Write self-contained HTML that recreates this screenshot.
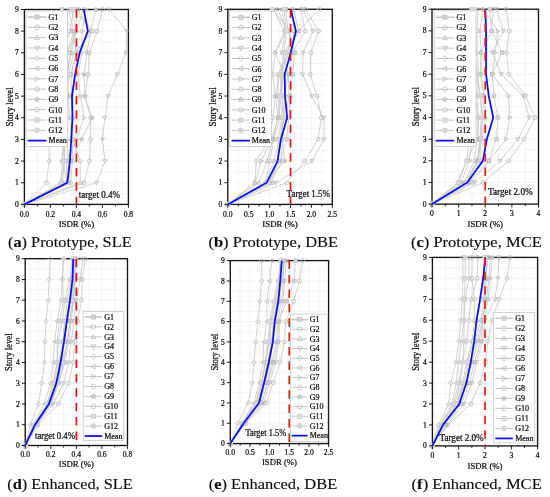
<!DOCTYPE html>
<html><head><meta charset="utf-8"><style>
html,body{margin:0;padding:0;background:#fff;}
svg{display:block;filter:blur(0.3px);}
text{font-family:"Liberation Serif", "Times New Roman", serif;fill:#0a0a0a;stroke:#0a0a0a;stroke-width:0.22px;}
</style></head><body>
<svg width="550" height="497" viewBox="0 0 550 497">
<path d="M50.4,9.5V204.4M76.4,9.5V204.4M102.4,9.5V204.4M37.4,9.5V204.4M63.4,9.5V204.4M89.4,9.5V204.4M115.4,9.5V204.4M24.4,193.57H128.4M24.4,182.74H128.4M24.4,171.92H128.4M24.4,161.09H128.4M24.4,150.26H128.4M24.4,139.43H128.4M24.4,128.61H128.4M24.4,117.78H128.4M24.4,106.95H128.4M24.4,96.12H128.4M24.4,85.29H128.4M24.4,74.47H128.4M24.4,63.64H128.4M24.4,52.81H128.4M24.4,41.98H128.4M24.4,31.16H128.4M24.4,20.33H128.4" stroke="#ececec" stroke-width="0.6" fill="none"/>
<rect x="24.4" y="9.5" width="104" height="194.9" fill="none" stroke="#151515" stroke-width="1.35"/>
<clipPath id="clipa"><rect x="20.4" y="5.5" width="108" height="202.9"/></clipPath>
<g clip-path="url(#clipa)">
<polyline points="24.4,204.4 62.1,182.74 64.7,161.09 63.4,139.43 63.4,117.78 63.4,96.12 70.81,74.47 76.4,52.81 72.5,31.16 62.1,9.5" fill="none" stroke="#c6c6c6" stroke-width="0.8"/>
<polyline points="24.4,204.4 84.2,182.74 89.4,161.09 90.7,139.43 90.7,117.78 84.85,96.12 88.1,74.47 89.4,52.81 97.2,31.16 102.4,9.5" fill="none" stroke="#c6c6c6" stroke-width="0.8"/>
<polyline points="24.4,204.4 68.6,182.74 67.95,161.09 67.3,139.43 66,117.78 63.4,96.12 63.4,74.47 67.3,52.81 73.8,31.16 68.6,9.5" fill="none" stroke="#c6c6c6" stroke-width="0.8"/>
<polyline points="24.4,204.4 96.55,182.74 105,161.09 102.4,139.43 105,117.78 107.99,96.12 117.35,74.47 125.8,52.81 127.1,31.16 108.9,9.5" fill="none" stroke="#c6c6c6" stroke-width="0.8"/>
<polyline points="24.4,204.4 46.5,182.74 49.1,161.09 49.1,139.43 50.4,117.78 53,96.12 58.2,74.47 63.4,52.81 69.9,31.16 73.8,9.5" fill="none" stroke="#c6c6c6" stroke-width="0.8"/>
<polyline points="24.4,204.4 70.55,182.74 72.5,161.09 72.5,139.43 69.51,117.78 68.6,96.12 67.3,74.47 69.9,52.81 75.1,31.16 77.7,9.5" fill="none" stroke="#c6c6c6" stroke-width="0.8"/>
<polyline points="24.4,204.4 66.65,182.74 66.65,161.09 76.4,139.43 84.2,117.78 80.3,96.12 78.35,74.47 81.6,52.81 82.25,31.16 85.5,9.5" fill="none" stroke="#c6c6c6" stroke-width="0.8"/>
<polyline points="24.4,204.4 60.8,182.74 62.1,161.09 63.4,139.43 64.7,117.78 66,96.12 67.3,74.47 71.2,52.81 76.4,31.16 83.55,9.5" fill="none" stroke="#c6c6c6" stroke-width="0.8"/>
<polyline points="24.4,204.4 68.6,182.74 71.2,161.09 81.6,139.43 92,117.78 84.85,96.12 84.2,74.47 86.8,52.81 90.7,31.16 95.9,9.5" fill="none" stroke="#c6c6c6" stroke-width="0.8"/>
<polyline points="24.4,204.4 80.3,182.74 80.3,161.09 72.5,139.43 72.5,117.78 71.2,96.12 71.2,74.47 76.4,52.81 90.7,31.16 77.7,9.5" fill="none" stroke="#c6c6c6" stroke-width="0.8"/>
<polyline points="24.4,204.4 60.8,182.74 64.7,161.09 64.7,139.43 64.7,117.78 66,96.12 68.6,74.47 73.8,52.81 93.3,31.16 73.8,9.5" fill="none" stroke="#c6c6c6" stroke-width="0.8"/>
<polyline points="24.4,204.4 67.3,182.74 62.1,161.09 66,139.43 63.4,117.78 62.1,96.12 63.4,74.47 67.3,52.81 76.4,31.16 71.2,9.5" fill="none" stroke="#c6c6c6" stroke-width="0.8"/>
<rect x="22.7" y="202.7" width="3.4" height="3.4" fill="#d8d8d8" stroke="#bdbdbd" stroke-width="0.8"/>
<rect x="60.4" y="181.04" width="3.4" height="3.4" fill="#d8d8d8" stroke="#bdbdbd" stroke-width="0.8"/>
<rect x="63" y="159.39" width="3.4" height="3.4" fill="#d8d8d8" stroke="#bdbdbd" stroke-width="0.8"/>
<rect x="61.7" y="137.73" width="3.4" height="3.4" fill="#d8d8d8" stroke="#bdbdbd" stroke-width="0.8"/>
<rect x="61.7" y="116.08" width="3.4" height="3.4" fill="#d8d8d8" stroke="#bdbdbd" stroke-width="0.8"/>
<rect x="61.7" y="94.42" width="3.4" height="3.4" fill="#d8d8d8" stroke="#bdbdbd" stroke-width="0.8"/>
<rect x="69.11" y="72.77" width="3.4" height="3.4" fill="#d8d8d8" stroke="#bdbdbd" stroke-width="0.8"/>
<rect x="74.7" y="51.11" width="3.4" height="3.4" fill="#d8d8d8" stroke="#bdbdbd" stroke-width="0.8"/>
<rect x="70.8" y="29.46" width="3.4" height="3.4" fill="#d8d8d8" stroke="#bdbdbd" stroke-width="0.8"/>
<rect x="60.4" y="7.8" width="3.4" height="3.4" fill="#d8d8d8" stroke="#bdbdbd" stroke-width="0.8"/>
<circle cx="24.4" cy="204.4" r="2" fill="none" stroke="#bdbdbd" stroke-width="0.8"/>
<circle cx="84.2" cy="182.74" r="2" fill="none" stroke="#bdbdbd" stroke-width="0.8"/>
<circle cx="89.4" cy="161.09" r="2" fill="none" stroke="#bdbdbd" stroke-width="0.8"/>
<circle cx="90.7" cy="139.43" r="2" fill="none" stroke="#bdbdbd" stroke-width="0.8"/>
<circle cx="90.7" cy="117.78" r="2" fill="none" stroke="#bdbdbd" stroke-width="0.8"/>
<circle cx="84.85" cy="96.12" r="2" fill="none" stroke="#bdbdbd" stroke-width="0.8"/>
<circle cx="88.1" cy="74.47" r="2" fill="none" stroke="#bdbdbd" stroke-width="0.8"/>
<circle cx="89.4" cy="52.81" r="2" fill="none" stroke="#bdbdbd" stroke-width="0.8"/>
<circle cx="97.2" cy="31.16" r="2" fill="none" stroke="#bdbdbd" stroke-width="0.8"/>
<circle cx="102.4" cy="9.5" r="2" fill="none" stroke="#bdbdbd" stroke-width="0.8"/>
<path d="M24.4,202.2L26.5,205.9L22.3,205.9Z" fill="none" stroke="#bdbdbd" stroke-width="0.8"/>
<path d="M68.6,180.54L70.7,184.24L66.5,184.24Z" fill="none" stroke="#bdbdbd" stroke-width="0.8"/>
<path d="M67.95,158.89L70.05,162.59L65.85,162.59Z" fill="none" stroke="#bdbdbd" stroke-width="0.8"/>
<path d="M67.3,137.23L69.4,140.93L65.2,140.93Z" fill="none" stroke="#bdbdbd" stroke-width="0.8"/>
<path d="M66,115.58L68.1,119.28L63.9,119.28Z" fill="none" stroke="#bdbdbd" stroke-width="0.8"/>
<path d="M63.4,93.92L65.5,97.62L61.3,97.62Z" fill="none" stroke="#bdbdbd" stroke-width="0.8"/>
<path d="M63.4,72.27L65.5,75.97L61.3,75.97Z" fill="none" stroke="#bdbdbd" stroke-width="0.8"/>
<path d="M67.3,50.61L69.4,54.31L65.2,54.31Z" fill="none" stroke="#bdbdbd" stroke-width="0.8"/>
<path d="M73.8,28.96L75.9,32.66L71.7,32.66Z" fill="none" stroke="#bdbdbd" stroke-width="0.8"/>
<path d="M68.6,7.3L70.7,11L66.5,11Z" fill="none" stroke="#bdbdbd" stroke-width="0.8"/>
<path d="M24.4,206.6L26.5,202.9L22.3,202.9Z" fill="none" stroke="#bdbdbd" stroke-width="0.8"/>
<path d="M96.55,184.94L98.65,181.24L94.45,181.24Z" fill="none" stroke="#bdbdbd" stroke-width="0.8"/>
<path d="M105,163.29L107.1,159.59L102.9,159.59Z" fill="none" stroke="#bdbdbd" stroke-width="0.8"/>
<path d="M102.4,141.63L104.5,137.93L100.3,137.93Z" fill="none" stroke="#bdbdbd" stroke-width="0.8"/>
<path d="M105,119.98L107.1,116.28L102.9,116.28Z" fill="none" stroke="#bdbdbd" stroke-width="0.8"/>
<path d="M107.99,98.32L110.09,94.62L105.89,94.62Z" fill="none" stroke="#bdbdbd" stroke-width="0.8"/>
<path d="M117.35,76.67L119.45,72.97L115.25,72.97Z" fill="none" stroke="#bdbdbd" stroke-width="0.8"/>
<path d="M125.8,55.01L127.9,51.31L123.7,51.31Z" fill="none" stroke="#bdbdbd" stroke-width="0.8"/>
<path d="M127.1,33.36L129.2,29.66L125,29.66Z" fill="none" stroke="#bdbdbd" stroke-width="0.8"/>
<path d="M108.9,11.7L111,8L106.8,8Z" fill="none" stroke="#bdbdbd" stroke-width="0.8"/>
<path d="M24.4,202.1L26.7,204.4L24.4,206.7L22.1,204.4Z" fill="none" stroke="#bdbdbd" stroke-width="0.8"/>
<path d="M46.5,180.44L48.8,182.74L46.5,185.04L44.2,182.74Z" fill="none" stroke="#bdbdbd" stroke-width="0.8"/>
<path d="M49.1,158.79L51.4,161.09L49.1,163.39L46.8,161.09Z" fill="none" stroke="#bdbdbd" stroke-width="0.8"/>
<path d="M49.1,137.13L51.4,139.43L49.1,141.73L46.8,139.43Z" fill="none" stroke="#bdbdbd" stroke-width="0.8"/>
<path d="M50.4,115.48L52.7,117.78L50.4,120.08L48.1,117.78Z" fill="none" stroke="#bdbdbd" stroke-width="0.8"/>
<path d="M53,93.82L55.3,96.12L53,98.42L50.7,96.12Z" fill="none" stroke="#bdbdbd" stroke-width="0.8"/>
<path d="M58.2,72.17L60.5,74.47L58.2,76.77L55.9,74.47Z" fill="none" stroke="#bdbdbd" stroke-width="0.8"/>
<path d="M63.4,50.51L65.7,52.81L63.4,55.11L61.1,52.81Z" fill="none" stroke="#bdbdbd" stroke-width="0.8"/>
<path d="M69.9,28.86L72.2,31.16L69.9,33.46L67.6,31.16Z" fill="none" stroke="#bdbdbd" stroke-width="0.8"/>
<path d="M73.8,7.2L76.1,9.5L73.8,11.8L71.5,9.5Z" fill="none" stroke="#bdbdbd" stroke-width="0.8"/>
<path d="M22.2,204.4L25.9,202.3L25.9,206.5Z" fill="none" stroke="#bdbdbd" stroke-width="0.8"/>
<path d="M68.35,182.74L72.05,180.64L72.05,184.84Z" fill="none" stroke="#bdbdbd" stroke-width="0.8"/>
<path d="M70.3,161.09L74,158.99L74,163.19Z" fill="none" stroke="#bdbdbd" stroke-width="0.8"/>
<path d="M70.3,139.43L74,137.33L74,141.53Z" fill="none" stroke="#bdbdbd" stroke-width="0.8"/>
<path d="M67.31,117.78L71.01,115.68L71.01,119.88Z" fill="none" stroke="#bdbdbd" stroke-width="0.8"/>
<path d="M66.4,96.12L70.1,94.02L70.1,98.22Z" fill="none" stroke="#bdbdbd" stroke-width="0.8"/>
<path d="M65.1,74.47L68.8,72.37L68.8,76.57Z" fill="none" stroke="#bdbdbd" stroke-width="0.8"/>
<path d="M67.7,52.81L71.4,50.71L71.4,54.91Z" fill="none" stroke="#bdbdbd" stroke-width="0.8"/>
<path d="M72.9,31.16L76.6,29.06L76.6,33.26Z" fill="none" stroke="#bdbdbd" stroke-width="0.8"/>
<path d="M75.5,9.5L79.2,7.4L79.2,11.6Z" fill="none" stroke="#bdbdbd" stroke-width="0.8"/>
<path d="M26.6,204.4L22.9,202.3L22.9,206.5Z" fill="none" stroke="#bdbdbd" stroke-width="0.8"/>
<path d="M68.85,182.74L65.15,180.64L65.15,184.84Z" fill="none" stroke="#bdbdbd" stroke-width="0.8"/>
<path d="M68.85,161.09L65.15,158.99L65.15,163.19Z" fill="none" stroke="#bdbdbd" stroke-width="0.8"/>
<path d="M78.6,139.43L74.9,137.33L74.9,141.53Z" fill="none" stroke="#bdbdbd" stroke-width="0.8"/>
<path d="M86.4,117.78L82.7,115.68L82.7,119.88Z" fill="none" stroke="#bdbdbd" stroke-width="0.8"/>
<path d="M82.5,96.12L78.8,94.02L78.8,98.22Z" fill="none" stroke="#bdbdbd" stroke-width="0.8"/>
<path d="M80.55,74.47L76.85,72.37L76.85,76.57Z" fill="none" stroke="#bdbdbd" stroke-width="0.8"/>
<path d="M83.8,52.81L80.1,50.71L80.1,54.91Z" fill="none" stroke="#bdbdbd" stroke-width="0.8"/>
<path d="M84.45,31.16L80.75,29.06L80.75,33.26Z" fill="none" stroke="#bdbdbd" stroke-width="0.8"/>
<path d="M87.7,9.5L84,7.4L84,11.6Z" fill="none" stroke="#bdbdbd" stroke-width="0.8"/>
<polygon points="26.5,204.4 25.45,206.22 23.35,206.22 22.3,204.4 23.35,202.58 25.45,202.58" fill="none" stroke="#bdbdbd" stroke-width="0.8"/>
<polygon points="62.9,182.74 61.85,184.56 59.75,184.56 58.7,182.74 59.75,180.93 61.85,180.93" fill="none" stroke="#bdbdbd" stroke-width="0.8"/>
<polygon points="64.2,161.09 63.15,162.91 61.05,162.91 60,161.09 61.05,159.27 63.15,159.27" fill="none" stroke="#bdbdbd" stroke-width="0.8"/>
<polygon points="65.5,139.43 64.45,141.25 62.35,141.25 61.3,139.43 62.35,137.61 64.45,137.61" fill="none" stroke="#bdbdbd" stroke-width="0.8"/>
<polygon points="66.8,117.78 65.75,119.6 63.65,119.6 62.6,117.78 63.65,115.96 65.75,115.96" fill="none" stroke="#bdbdbd" stroke-width="0.8"/>
<polygon points="68.1,96.12 67.05,97.94 64.95,97.94 63.9,96.12 64.95,94.3 67.05,94.3" fill="none" stroke="#bdbdbd" stroke-width="0.8"/>
<polygon points="69.4,74.47 68.35,76.29 66.25,76.29 65.2,74.47 66.25,72.65 68.35,72.65" fill="none" stroke="#bdbdbd" stroke-width="0.8"/>
<polygon points="73.3,52.81 72.25,54.63 70.15,54.63 69.1,52.81 70.15,50.99 72.25,50.99" fill="none" stroke="#bdbdbd" stroke-width="0.8"/>
<polygon points="78.5,31.16 77.45,32.97 75.35,32.97 74.3,31.16 75.35,29.34 77.45,29.34" fill="none" stroke="#bdbdbd" stroke-width="0.8"/>
<polygon points="85.65,9.5 84.6,11.32 82.5,11.32 81.45,9.5 82.5,7.68 84.6,7.68" fill="none" stroke="#bdbdbd" stroke-width="0.8"/>
<polygon points="24.4,202 24.99,203.59 26.68,203.66 25.35,204.71 25.81,206.34 24.4,205.4 22.99,206.34 23.45,204.71 22.12,203.66 23.81,203.59" fill="#d0d0d0" stroke="#bdbdbd" stroke-width="0.8"/>
<polygon points="68.6,180.34 69.19,181.94 70.88,182 69.55,183.05 70.01,184.69 68.6,183.74 67.19,184.69 67.65,183.05 66.32,182 68.01,181.94" fill="#d0d0d0" stroke="#bdbdbd" stroke-width="0.8"/>
<polygon points="71.2,158.69 71.79,160.28 73.48,160.35 72.15,161.4 72.61,163.03 71.2,162.09 69.79,163.03 70.25,161.4 68.92,160.35 70.61,160.28" fill="#d0d0d0" stroke="#bdbdbd" stroke-width="0.8"/>
<polygon points="81.6,137.03 82.19,138.62 83.88,138.69 82.55,139.74 83.01,141.37 81.6,140.43 80.19,141.37 80.65,139.74 79.32,138.69 81.01,138.62" fill="#d0d0d0" stroke="#bdbdbd" stroke-width="0.8"/>
<polygon points="92,115.38 92.59,116.97 94.28,117.04 92.95,118.09 93.41,119.72 92,118.78 90.59,119.72 91.05,118.09 89.72,117.04 91.41,116.97" fill="#d0d0d0" stroke="#bdbdbd" stroke-width="0.8"/>
<polygon points="84.85,93.72 85.44,95.31 87.13,95.38 85.8,96.43 86.26,98.06 84.85,97.12 83.44,98.06 83.9,96.43 82.57,95.38 84.26,95.31" fill="#d0d0d0" stroke="#bdbdbd" stroke-width="0.8"/>
<polygon points="84.2,72.07 84.79,73.66 86.48,73.73 85.15,74.78 85.61,76.41 84.2,75.47 82.79,76.41 83.25,74.78 81.92,73.73 83.61,73.66" fill="#d0d0d0" stroke="#bdbdbd" stroke-width="0.8"/>
<polygon points="86.8,50.41 87.39,52 89.08,52.07 87.75,53.12 88.21,54.75 86.8,53.81 85.39,54.75 85.85,53.12 84.52,52.07 86.21,52" fill="#d0d0d0" stroke="#bdbdbd" stroke-width="0.8"/>
<polygon points="90.7,28.76 91.29,30.35 92.98,30.41 91.65,31.46 92.11,33.1 90.7,32.16 89.29,33.1 89.75,31.46 88.42,30.41 90.11,30.35" fill="#d0d0d0" stroke="#bdbdbd" stroke-width="0.8"/>
<polygon points="95.9,7.1 96.49,8.69 98.18,8.76 96.85,9.81 97.31,11.44 95.9,10.5 94.49,11.44 94.95,9.81 93.62,8.76 95.31,8.69" fill="#d0d0d0" stroke="#bdbdbd" stroke-width="0.8"/>
<polygon points="24.4,202.2 26.49,203.72 25.69,206.18 23.11,206.18 22.31,203.72" fill="none" stroke="#bdbdbd" stroke-width="0.8"/>
<polygon points="80.3,180.54 82.39,182.06 81.59,184.52 79.01,184.52 78.21,182.06" fill="none" stroke="#bdbdbd" stroke-width="0.8"/>
<polygon points="80.3,158.89 82.39,160.41 81.59,162.87 79.01,162.87 78.21,160.41" fill="none" stroke="#bdbdbd" stroke-width="0.8"/>
<polygon points="72.5,137.23 74.59,138.75 73.79,141.21 71.21,141.21 70.41,138.75" fill="none" stroke="#bdbdbd" stroke-width="0.8"/>
<polygon points="72.5,115.58 74.59,117.1 73.79,119.56 71.21,119.56 70.41,117.1" fill="none" stroke="#bdbdbd" stroke-width="0.8"/>
<polygon points="71.2,93.92 73.29,95.44 72.49,97.9 69.91,97.9 69.11,95.44" fill="none" stroke="#bdbdbd" stroke-width="0.8"/>
<polygon points="71.2,72.27 73.29,73.79 72.49,76.25 69.91,76.25 69.11,73.79" fill="none" stroke="#bdbdbd" stroke-width="0.8"/>
<polygon points="76.4,50.61 78.49,52.13 77.69,54.59 75.11,54.59 74.31,52.13" fill="none" stroke="#bdbdbd" stroke-width="0.8"/>
<polygon points="90.7,28.96 92.79,30.48 91.99,32.94 89.41,32.94 88.61,30.48" fill="none" stroke="#bdbdbd" stroke-width="0.8"/>
<polygon points="77.7,7.3 79.79,8.82 78.99,11.28 76.41,11.28 75.61,8.82" fill="none" stroke="#bdbdbd" stroke-width="0.8"/>
<rect x="22.6" y="202.6" width="3.6" height="3.6" fill="#dcdcdc" stroke="#cfcfcf" stroke-width="0.8"/>
<rect x="59" y="180.94" width="3.6" height="3.6" fill="#dcdcdc" stroke="#cfcfcf" stroke-width="0.8"/>
<rect x="62.9" y="159.29" width="3.6" height="3.6" fill="#dcdcdc" stroke="#cfcfcf" stroke-width="0.8"/>
<rect x="62.9" y="137.63" width="3.6" height="3.6" fill="#dcdcdc" stroke="#cfcfcf" stroke-width="0.8"/>
<rect x="62.9" y="115.98" width="3.6" height="3.6" fill="#dcdcdc" stroke="#cfcfcf" stroke-width="0.8"/>
<rect x="64.2" y="94.32" width="3.6" height="3.6" fill="#dcdcdc" stroke="#cfcfcf" stroke-width="0.8"/>
<rect x="66.8" y="72.67" width="3.6" height="3.6" fill="#dcdcdc" stroke="#cfcfcf" stroke-width="0.8"/>
<rect x="72" y="51.01" width="3.6" height="3.6" fill="#dcdcdc" stroke="#cfcfcf" stroke-width="0.8"/>
<rect x="91.5" y="29.36" width="3.6" height="3.6" fill="#dcdcdc" stroke="#cfcfcf" stroke-width="0.8"/>
<rect x="72" y="7.7" width="3.6" height="3.6" fill="#dcdcdc" stroke="#cfcfcf" stroke-width="0.8"/>
<circle cx="24.4" cy="204.4" r="2.1" fill="#dedede" stroke="#cccccc" stroke-width="0.8"/><circle cx="24.4" cy="204.4" r="0.8" fill="#c8c8c8"/>
<circle cx="67.3" cy="182.74" r="2.1" fill="#dedede" stroke="#cccccc" stroke-width="0.8"/><circle cx="67.3" cy="182.74" r="0.8" fill="#c8c8c8"/>
<circle cx="62.1" cy="161.09" r="2.1" fill="#dedede" stroke="#cccccc" stroke-width="0.8"/><circle cx="62.1" cy="161.09" r="0.8" fill="#c8c8c8"/>
<circle cx="66" cy="139.43" r="2.1" fill="#dedede" stroke="#cccccc" stroke-width="0.8"/><circle cx="66" cy="139.43" r="0.8" fill="#c8c8c8"/>
<circle cx="63.4" cy="117.78" r="2.1" fill="#dedede" stroke="#cccccc" stroke-width="0.8"/><circle cx="63.4" cy="117.78" r="0.8" fill="#c8c8c8"/>
<circle cx="62.1" cy="96.12" r="2.1" fill="#dedede" stroke="#cccccc" stroke-width="0.8"/><circle cx="62.1" cy="96.12" r="0.8" fill="#c8c8c8"/>
<circle cx="63.4" cy="74.47" r="2.1" fill="#dedede" stroke="#cccccc" stroke-width="0.8"/><circle cx="63.4" cy="74.47" r="0.8" fill="#c8c8c8"/>
<circle cx="67.3" cy="52.81" r="2.1" fill="#dedede" stroke="#cccccc" stroke-width="0.8"/><circle cx="67.3" cy="52.81" r="0.8" fill="#c8c8c8"/>
<circle cx="76.4" cy="31.16" r="2.1" fill="#dedede" stroke="#cccccc" stroke-width="0.8"/><circle cx="76.4" cy="31.16" r="0.8" fill="#c8c8c8"/>
<circle cx="71.2" cy="9.5" r="2.1" fill="#dedede" stroke="#cccccc" stroke-width="0.8"/><circle cx="71.2" cy="9.5" r="0.8" fill="#c8c8c8"/>
<polyline points="24.4,204.4 67.3,182.74 69.9,161.09 71.2,139.43 72.5,117.78 71.98,96.12 75.1,74.47 79.65,52.81 87.84,31.16 83.81,9.5" fill="none" stroke="#0c0cf8" stroke-width="1.75" stroke-linejoin="miter"/>
</g>
<path d="M76.4,9.5V204.4" stroke="#f51010" stroke-width="1.65" stroke-dasharray="8.5 5.9"/>
<rect x="26.1" y="10.9" width="41.5" height="135.5" fill="#fff" stroke="#c8c8c8" stroke-width="0.8"/>
<path d="M27.6,17.1H46.4" stroke="#c6c6c6" stroke-width="1.6"/>
<rect x="35" y="15.1" width="4" height="4" fill="#d8d8d8" stroke="#bdbdbd" stroke-width="0.8"/>
<text x="48.6" y="19.9" font-size="8" text-anchor="start">G1</text>
<path d="M27.6,27.39H46.4" stroke="#c6c6c6" stroke-width="1.0"/>
<circle cx="37" cy="27.39" r="2.35" fill="none" stroke="#bdbdbd" stroke-width="0.8"/>
<text x="48.6" y="30.19" font-size="8" text-anchor="start">G2</text>
<path d="M27.6,37.68H46.4" stroke="#c6c6c6" stroke-width="1.0"/>
<path d="M37,35.09L39.47,39.44L34.53,39.44Z" fill="none" stroke="#bdbdbd" stroke-width="0.8"/>
<text x="48.6" y="40.48" font-size="8" text-anchor="start">G3</text>
<path d="M27.6,47.97H46.4" stroke="#c6c6c6" stroke-width="1.0"/>
<path d="M37,50.55L39.47,46.21L34.53,46.21Z" fill="none" stroke="#bdbdbd" stroke-width="0.8"/>
<text x="48.6" y="50.77" font-size="8" text-anchor="start">G4</text>
<path d="M27.6,58.26H46.4" stroke="#c6c6c6" stroke-width="1.0"/>
<path d="M37,55.56L39.7,58.26L37,60.96L34.3,58.26Z" fill="none" stroke="#bdbdbd" stroke-width="0.8"/>
<text x="48.6" y="61.06" font-size="8" text-anchor="start">G5</text>
<path d="M27.6,68.55H46.4" stroke="#c6c6c6" stroke-width="1.0"/>
<path d="M34.41,68.55L38.76,66.08L38.76,71.02Z" fill="none" stroke="#bdbdbd" stroke-width="0.8"/>
<text x="48.6" y="71.35" font-size="8" text-anchor="start">G6</text>
<path d="M27.6,78.84H46.4" stroke="#c6c6c6" stroke-width="1.0"/>
<path d="M39.59,78.84L35.24,76.37L35.24,81.31Z" fill="none" stroke="#bdbdbd" stroke-width="0.8"/>
<text x="48.6" y="81.64" font-size="8" text-anchor="start">G7</text>
<path d="M27.6,89.13H46.4" stroke="#c6c6c6" stroke-width="1.0"/>
<polygon points="39.47,89.13 38.23,91.27 35.77,91.27 34.53,89.13 35.77,86.99 38.23,86.99" fill="none" stroke="#bdbdbd" stroke-width="0.8"/>
<text x="48.6" y="91.93" font-size="8" text-anchor="start">G8</text>
<path d="M27.6,99.42H46.4" stroke="#c6c6c6" stroke-width="1.0"/>
<polygon points="37,96.6 37.69,98.47 39.68,98.55 38.12,99.78 38.66,101.7 37,100.59 35.34,101.7 35.88,99.78 34.32,98.55 36.31,98.47" fill="#d0d0d0" stroke="#bdbdbd" stroke-width="0.8"/>
<text x="48.6" y="102.22" font-size="8" text-anchor="start">G9</text>
<path d="M27.6,109.71H46.4" stroke="#c6c6c6" stroke-width="1.0"/>
<polygon points="37,107.12 39.46,108.91 38.52,111.8 35.48,111.8 34.54,108.91" fill="none" stroke="#bdbdbd" stroke-width="0.8"/>
<text x="48.6" y="112.51" font-size="8" text-anchor="start">G10</text>
<path d="M27.6,120H46.4" stroke="#c6c6c6" stroke-width="1.0"/>
<rect x="34.88" y="117.89" width="4.23" height="4.23" fill="#dcdcdc" stroke="#cfcfcf" stroke-width="0.8"/>
<text x="48.6" y="122.8" font-size="8" text-anchor="start">G11</text>
<path d="M27.6,130.29H46.4" stroke="#c6c6c6" stroke-width="1.0"/>
<circle cx="37" cy="130.29" r="2.47" fill="#dedede" stroke="#cccccc" stroke-width="0.8"/><circle cx="37" cy="130.29" r="0.8" fill="#c8c8c8"/>
<text x="48.6" y="133.09" font-size="8" text-anchor="start">G12</text>
<path d="M27.6,140.58H46.4" stroke="#0c0cf8" stroke-width="1.75"/>
<text x="48.6" y="143.38" font-size="8" text-anchor="start">Mean</text>
<path d="M24.4,204.4v3.4M50.4,204.4v3.4M76.4,204.4v3.4M102.4,204.4v3.4M128.4,204.4v3.4M37.4,204.4v2M63.4,204.4v2M89.4,204.4v2M115.4,204.4v2M24.4,204.4h-3.4M24.4,182.74h-3.4M24.4,161.09h-3.4M24.4,139.43h-3.4M24.4,117.78h-3.4M24.4,96.12h-3.4M24.4,74.47h-3.4M24.4,52.81h-3.4M24.4,31.16h-3.4M24.4,9.5h-3.4" stroke="#1a1a1a" stroke-width="1"/>
<text x="24.4" y="216.6" font-size="7.6" text-anchor="middle">0.0</text>
<text x="50.4" y="216.6" font-size="7.6" text-anchor="middle">0.2</text>
<text x="76.4" y="216.6" font-size="7.6" text-anchor="middle">0.4</text>
<text x="102.4" y="216.6" font-size="7.6" text-anchor="middle">0.6</text>
<text x="128.4" y="216.6" font-size="7.6" text-anchor="middle">0.8</text>
<text x="18.9" y="206.98" font-size="7.6" text-anchor="end">0</text>
<text x="18.9" y="185.33" font-size="7.6" text-anchor="end">1</text>
<text x="18.9" y="163.67" font-size="7.6" text-anchor="end">2</text>
<text x="18.9" y="142.02" font-size="7.6" text-anchor="end">3</text>
<text x="18.9" y="120.36" font-size="7.6" text-anchor="end">4</text>
<text x="18.9" y="98.71" font-size="7.6" text-anchor="end">5</text>
<text x="18.9" y="77.05" font-size="7.6" text-anchor="end">6</text>
<text x="18.9" y="55.4" font-size="7.6" text-anchor="end">7</text>
<text x="18.9" y="33.74" font-size="7.6" text-anchor="end">8</text>
<text x="18.9" y="12.08" font-size="7.6" text-anchor="end">9</text>
<text x="78.8" y="197.5" font-size="9.3" text-anchor="start" textLength="41.2" lengthAdjust="spacingAndGlyphs">target 0.4%</text>
<text x="76.4" y="227.2" font-size="8.8" text-anchor="middle" textLength="35.5" lengthAdjust="spacingAndGlyphs">ISDR (%)</text>
<text transform="translate(13,106.9) rotate(-90)" font-size="9.6" text-anchor="middle" textLength="39.2" lengthAdjust="spacingAndGlyphs">Story level</text>
<text x="8" y="247" font-size="14.8" style="stroke-width:0.12px" textLength="123.6" lengthAdjust="spacingAndGlyphs">(<tspan font-weight="bold">a</tspan>) Prototype, SLE</text>
<path d="M248.7,9.3V204.4M269.6,9.3V204.4M290.5,9.3V204.4M311.4,9.3V204.4M238.25,9.3V204.4M259.15,9.3V204.4M280.05,9.3V204.4M300.95,9.3V204.4M321.85,9.3V204.4M227.8,193.56H332.3M227.8,182.72H332.3M227.8,171.88H332.3M227.8,161.04H332.3M227.8,150.21H332.3M227.8,139.37H332.3M227.8,128.53H332.3M227.8,117.69H332.3M227.8,106.85H332.3M227.8,96.01H332.3M227.8,85.17H332.3M227.8,74.33H332.3M227.8,63.49H332.3M227.8,52.66H332.3M227.8,41.82H332.3M227.8,30.98H332.3M227.8,20.14H332.3" stroke="#ececec" stroke-width="0.6" fill="none"/>
<rect x="227.8" y="9.3" width="104.5" height="195.1" fill="none" stroke="#151515" stroke-width="1.35"/>
<clipPath id="clipb"><rect x="223.8" y="5.3" width="108.5" height="203.1"/></clipPath>
<g clip-path="url(#clipb)">
<polyline points="227.8,204.4 268.35,182.72 280.05,161.04 286.74,139.37 288.83,117.69 290.5,96.01 292.59,74.33 294.68,52.66 287.99,30.98 285.9,9.3" fill="none" stroke="#c6c6c6" stroke-width="0.8"/>
<polyline points="227.8,204.4 286.74,182.72 304.71,161.04 318.09,139.37 321.43,117.69 316.83,96.01 310.15,74.33 310.98,52.66 318.51,30.98 305.55,9.3" fill="none" stroke="#c6c6c6" stroke-width="0.8"/>
<polyline points="227.8,204.4 258.73,182.72 267.09,161.04 272.94,139.37 277.96,117.69 275.45,96.01 279.63,74.33 284.23,52.66 298.86,30.98 293.43,9.3" fill="none" stroke="#c6c6c6" stroke-width="0.8"/>
<polyline points="227.8,204.4 275.87,182.72 311.82,161.04 323.94,139.37 323.94,117.69 311.82,96.01 302.62,74.33 303.04,52.66 313.07,30.98 303.04,9.3" fill="none" stroke="#c6c6c6" stroke-width="0.8"/>
<polyline points="227.8,204.4 254.97,182.72 256.22,161.04 269.6,139.37 272.94,117.69 275.45,96.01 272.53,74.33 275.45,52.66 284.23,30.98 273.36,9.3" fill="none" stroke="#c6c6c6" stroke-width="0.8"/>
<polyline points="227.8,204.4 271.69,182.72 277.12,161.04 280.89,139.37 282.98,117.69 282.14,96.01 282.14,74.33 286.32,52.66 298.86,30.98 318.92,9.3" fill="none" stroke="#c6c6c6" stroke-width="0.8"/>
<polyline points="227.8,204.4 254.97,182.72 261.24,161.04 271.69,139.37 277.96,117.69 280.05,96.01 284.23,74.33 275.45,52.66 286.32,30.98 277.96,9.3" fill="none" stroke="#c6c6c6" stroke-width="0.8"/>
<polyline points="227.8,204.4 269.6,182.72 282.14,161.04 280.05,139.37 284.23,117.69 284.23,96.01 288.41,74.33 292.59,52.66 305.13,30.98 300.95,9.3" fill="none" stroke="#c6c6c6" stroke-width="0.8"/>
<polyline points="227.8,204.4 265.42,182.72 285.07,161.04 282.14,139.37 286.32,117.69 288.83,96.01 288.41,74.33 282.14,52.66 285.07,30.98 282.14,9.3" fill="none" stroke="#c6c6c6" stroke-width="0.8"/>
<polyline points="227.8,204.4 265.42,182.72 269.6,161.04 273.78,139.37 280.05,117.69 277.96,96.01 277.96,74.33 290.5,52.66 294.68,30.98 292.17,9.3" fill="none" stroke="#c6c6c6" stroke-width="0.8"/>
<polyline points="227.8,204.4 268.35,182.72 277.96,161.04 277.96,139.37 282.14,117.69 280.05,96.01 282.14,74.33 284.23,52.66 286.32,30.98 284.23,9.3" fill="none" stroke="#c6c6c6" stroke-width="0.8"/>
<polyline points="227.8,204.4 265.42,182.72 273.78,161.04 280.05,139.37 284.23,117.69 282.14,96.01 280.05,74.33 288.41,52.66 290.5,30.98 272.11,9.3" fill="none" stroke="#c6c6c6" stroke-width="0.8"/>
<rect x="226.1" y="202.7" width="3.4" height="3.4" fill="#d8d8d8" stroke="#bdbdbd" stroke-width="0.8"/>
<rect x="266.65" y="181.02" width="3.4" height="3.4" fill="#d8d8d8" stroke="#bdbdbd" stroke-width="0.8"/>
<rect x="278.35" y="159.34" width="3.4" height="3.4" fill="#d8d8d8" stroke="#bdbdbd" stroke-width="0.8"/>
<rect x="285.04" y="137.67" width="3.4" height="3.4" fill="#d8d8d8" stroke="#bdbdbd" stroke-width="0.8"/>
<rect x="287.13" y="115.99" width="3.4" height="3.4" fill="#d8d8d8" stroke="#bdbdbd" stroke-width="0.8"/>
<rect x="288.8" y="94.31" width="3.4" height="3.4" fill="#d8d8d8" stroke="#bdbdbd" stroke-width="0.8"/>
<rect x="290.89" y="72.63" width="3.4" height="3.4" fill="#d8d8d8" stroke="#bdbdbd" stroke-width="0.8"/>
<rect x="292.98" y="50.96" width="3.4" height="3.4" fill="#d8d8d8" stroke="#bdbdbd" stroke-width="0.8"/>
<rect x="286.29" y="29.28" width="3.4" height="3.4" fill="#d8d8d8" stroke="#bdbdbd" stroke-width="0.8"/>
<rect x="284.2" y="7.6" width="3.4" height="3.4" fill="#d8d8d8" stroke="#bdbdbd" stroke-width="0.8"/>
<circle cx="227.8" cy="204.4" r="2" fill="none" stroke="#bdbdbd" stroke-width="0.8"/>
<circle cx="286.74" cy="182.72" r="2" fill="none" stroke="#bdbdbd" stroke-width="0.8"/>
<circle cx="304.71" cy="161.04" r="2" fill="none" stroke="#bdbdbd" stroke-width="0.8"/>
<circle cx="318.09" cy="139.37" r="2" fill="none" stroke="#bdbdbd" stroke-width="0.8"/>
<circle cx="321.43" cy="117.69" r="2" fill="none" stroke="#bdbdbd" stroke-width="0.8"/>
<circle cx="316.83" cy="96.01" r="2" fill="none" stroke="#bdbdbd" stroke-width="0.8"/>
<circle cx="310.15" cy="74.33" r="2" fill="none" stroke="#bdbdbd" stroke-width="0.8"/>
<circle cx="310.98" cy="52.66" r="2" fill="none" stroke="#bdbdbd" stroke-width="0.8"/>
<circle cx="318.51" cy="30.98" r="2" fill="none" stroke="#bdbdbd" stroke-width="0.8"/>
<circle cx="305.55" cy="9.3" r="2" fill="none" stroke="#bdbdbd" stroke-width="0.8"/>
<path d="M227.8,202.2L229.9,205.9L225.7,205.9Z" fill="none" stroke="#bdbdbd" stroke-width="0.8"/>
<path d="M258.73,180.52L260.83,184.22L256.63,184.22Z" fill="none" stroke="#bdbdbd" stroke-width="0.8"/>
<path d="M267.09,158.84L269.19,162.54L264.99,162.54Z" fill="none" stroke="#bdbdbd" stroke-width="0.8"/>
<path d="M272.94,137.17L275.04,140.87L270.84,140.87Z" fill="none" stroke="#bdbdbd" stroke-width="0.8"/>
<path d="M277.96,115.49L280.06,119.19L275.86,119.19Z" fill="none" stroke="#bdbdbd" stroke-width="0.8"/>
<path d="M275.45,93.81L277.55,97.51L273.35,97.51Z" fill="none" stroke="#bdbdbd" stroke-width="0.8"/>
<path d="M279.63,72.13L281.73,75.83L277.53,75.83Z" fill="none" stroke="#bdbdbd" stroke-width="0.8"/>
<path d="M284.23,50.46L286.33,54.16L282.13,54.16Z" fill="none" stroke="#bdbdbd" stroke-width="0.8"/>
<path d="M298.86,28.78L300.96,32.48L296.76,32.48Z" fill="none" stroke="#bdbdbd" stroke-width="0.8"/>
<path d="M293.43,7.1L295.53,10.8L291.33,10.8Z" fill="none" stroke="#bdbdbd" stroke-width="0.8"/>
<path d="M227.8,206.6L229.9,202.9L225.7,202.9Z" fill="none" stroke="#bdbdbd" stroke-width="0.8"/>
<path d="M275.87,184.92L277.97,181.22L273.77,181.22Z" fill="none" stroke="#bdbdbd" stroke-width="0.8"/>
<path d="M311.82,163.24L313.92,159.54L309.72,159.54Z" fill="none" stroke="#bdbdbd" stroke-width="0.8"/>
<path d="M323.94,141.57L326.04,137.87L321.84,137.87Z" fill="none" stroke="#bdbdbd" stroke-width="0.8"/>
<path d="M323.94,119.89L326.04,116.19L321.84,116.19Z" fill="none" stroke="#bdbdbd" stroke-width="0.8"/>
<path d="M311.82,98.21L313.92,94.51L309.72,94.51Z" fill="none" stroke="#bdbdbd" stroke-width="0.8"/>
<path d="M302.62,76.53L304.72,72.83L300.52,72.83Z" fill="none" stroke="#bdbdbd" stroke-width="0.8"/>
<path d="M303.04,54.86L305.14,51.16L300.94,51.16Z" fill="none" stroke="#bdbdbd" stroke-width="0.8"/>
<path d="M313.07,33.18L315.17,29.48L310.97,29.48Z" fill="none" stroke="#bdbdbd" stroke-width="0.8"/>
<path d="M303.04,11.5L305.14,7.8L300.94,7.8Z" fill="none" stroke="#bdbdbd" stroke-width="0.8"/>
<path d="M227.8,202.1L230.1,204.4L227.8,206.7L225.5,204.4Z" fill="none" stroke="#bdbdbd" stroke-width="0.8"/>
<path d="M254.97,180.42L257.27,182.72L254.97,185.02L252.67,182.72Z" fill="none" stroke="#bdbdbd" stroke-width="0.8"/>
<path d="M256.22,158.74L258.52,161.04L256.22,163.34L253.92,161.04Z" fill="none" stroke="#bdbdbd" stroke-width="0.8"/>
<path d="M269.6,137.07L271.9,139.37L269.6,141.67L267.3,139.37Z" fill="none" stroke="#bdbdbd" stroke-width="0.8"/>
<path d="M272.94,115.39L275.24,117.69L272.94,119.99L270.64,117.69Z" fill="none" stroke="#bdbdbd" stroke-width="0.8"/>
<path d="M275.45,93.71L277.75,96.01L275.45,98.31L273.15,96.01Z" fill="none" stroke="#bdbdbd" stroke-width="0.8"/>
<path d="M272.53,72.03L274.83,74.33L272.53,76.63L270.23,74.33Z" fill="none" stroke="#bdbdbd" stroke-width="0.8"/>
<path d="M275.45,50.36L277.75,52.66L275.45,54.96L273.15,52.66Z" fill="none" stroke="#bdbdbd" stroke-width="0.8"/>
<path d="M284.23,28.68L286.53,30.98L284.23,33.28L281.93,30.98Z" fill="none" stroke="#bdbdbd" stroke-width="0.8"/>
<path d="M273.36,7L275.66,9.3L273.36,11.6L271.06,9.3Z" fill="none" stroke="#bdbdbd" stroke-width="0.8"/>
<path d="M225.6,204.4L229.3,202.3L229.3,206.5Z" fill="none" stroke="#bdbdbd" stroke-width="0.8"/>
<path d="M269.49,182.72L273.19,180.62L273.19,184.82Z" fill="none" stroke="#bdbdbd" stroke-width="0.8"/>
<path d="M274.92,161.04L278.62,158.94L278.62,163.14Z" fill="none" stroke="#bdbdbd" stroke-width="0.8"/>
<path d="M278.69,139.37L282.39,137.27L282.39,141.47Z" fill="none" stroke="#bdbdbd" stroke-width="0.8"/>
<path d="M280.78,117.69L284.48,115.59L284.48,119.79Z" fill="none" stroke="#bdbdbd" stroke-width="0.8"/>
<path d="M279.94,96.01L283.64,93.91L283.64,98.11Z" fill="none" stroke="#bdbdbd" stroke-width="0.8"/>
<path d="M279.94,74.33L283.64,72.23L283.64,76.43Z" fill="none" stroke="#bdbdbd" stroke-width="0.8"/>
<path d="M284.12,52.66L287.82,50.56L287.82,54.76Z" fill="none" stroke="#bdbdbd" stroke-width="0.8"/>
<path d="M296.66,30.98L300.36,28.88L300.36,33.08Z" fill="none" stroke="#bdbdbd" stroke-width="0.8"/>
<path d="M316.72,9.3L320.42,7.2L320.42,11.4Z" fill="none" stroke="#bdbdbd" stroke-width="0.8"/>
<path d="M230,204.4L226.3,202.3L226.3,206.5Z" fill="none" stroke="#bdbdbd" stroke-width="0.8"/>
<path d="M257.17,182.72L253.47,180.62L253.47,184.82Z" fill="none" stroke="#bdbdbd" stroke-width="0.8"/>
<path d="M263.44,161.04L259.74,158.94L259.74,163.14Z" fill="none" stroke="#bdbdbd" stroke-width="0.8"/>
<path d="M273.89,139.37L270.19,137.27L270.19,141.47Z" fill="none" stroke="#bdbdbd" stroke-width="0.8"/>
<path d="M280.16,117.69L276.46,115.59L276.46,119.79Z" fill="none" stroke="#bdbdbd" stroke-width="0.8"/>
<path d="M282.25,96.01L278.55,93.91L278.55,98.11Z" fill="none" stroke="#bdbdbd" stroke-width="0.8"/>
<path d="M286.43,74.33L282.73,72.23L282.73,76.43Z" fill="none" stroke="#bdbdbd" stroke-width="0.8"/>
<path d="M277.65,52.66L273.95,50.56L273.95,54.76Z" fill="none" stroke="#bdbdbd" stroke-width="0.8"/>
<path d="M288.52,30.98L284.82,28.88L284.82,33.08Z" fill="none" stroke="#bdbdbd" stroke-width="0.8"/>
<path d="M280.16,9.3L276.46,7.2L276.46,11.4Z" fill="none" stroke="#bdbdbd" stroke-width="0.8"/>
<polygon points="229.9,204.4 228.85,206.22 226.75,206.22 225.7,204.4 226.75,202.58 228.85,202.58" fill="none" stroke="#bdbdbd" stroke-width="0.8"/>
<polygon points="271.7,182.72 270.65,184.54 268.55,184.54 267.5,182.72 268.55,180.9 270.65,180.9" fill="none" stroke="#bdbdbd" stroke-width="0.8"/>
<polygon points="284.24,161.04 283.19,162.86 281.09,162.86 280.04,161.04 281.09,159.23 283.19,159.23" fill="none" stroke="#bdbdbd" stroke-width="0.8"/>
<polygon points="282.15,139.37 281.1,141.19 279,141.19 277.95,139.37 279,137.55 281.1,137.55" fill="none" stroke="#bdbdbd" stroke-width="0.8"/>
<polygon points="286.33,117.69 285.28,119.51 283.18,119.51 282.13,117.69 283.18,115.87 285.28,115.87" fill="none" stroke="#bdbdbd" stroke-width="0.8"/>
<polygon points="286.33,96.01 285.28,97.83 283.18,97.83 282.13,96.01 283.18,94.19 285.28,94.19" fill="none" stroke="#bdbdbd" stroke-width="0.8"/>
<polygon points="290.51,74.33 289.46,76.15 287.36,76.15 286.31,74.33 287.36,72.51 289.46,72.51" fill="none" stroke="#bdbdbd" stroke-width="0.8"/>
<polygon points="294.69,52.66 293.64,54.47 291.54,54.47 290.49,52.66 291.54,50.84 293.64,50.84" fill="none" stroke="#bdbdbd" stroke-width="0.8"/>
<polygon points="307.23,30.98 306.18,32.8 304.08,32.8 303.03,30.98 304.08,29.16 306.18,29.16" fill="none" stroke="#bdbdbd" stroke-width="0.8"/>
<polygon points="303.05,9.3 302,11.12 299.9,11.12 298.85,9.3 299.9,7.48 302,7.48" fill="none" stroke="#bdbdbd" stroke-width="0.8"/>
<polygon points="227.8,202 228.39,203.59 230.08,203.66 228.75,204.71 229.21,206.34 227.8,205.4 226.39,206.34 226.85,204.71 225.52,203.66 227.21,203.59" fill="#d0d0d0" stroke="#bdbdbd" stroke-width="0.8"/>
<polygon points="265.42,180.32 266.01,181.91 267.7,181.98 266.37,183.03 266.83,184.66 265.42,183.72 264.01,184.66 264.47,183.03 263.14,181.98 264.83,181.91" fill="#d0d0d0" stroke="#bdbdbd" stroke-width="0.8"/>
<polygon points="285.07,158.64 285.65,160.24 287.35,160.3 286.02,161.35 286.48,162.99 285.07,162.04 283.66,162.99 284.11,161.35 282.78,160.3 284.48,160.24" fill="#d0d0d0" stroke="#bdbdbd" stroke-width="0.8"/>
<polygon points="282.14,136.97 282.73,138.56 284.42,138.63 283.09,139.68 283.55,141.31 282.14,140.37 280.73,141.31 281.19,139.68 279.86,138.63 281.55,138.56" fill="#d0d0d0" stroke="#bdbdbd" stroke-width="0.8"/>
<polygon points="286.32,115.29 286.91,116.88 288.6,116.95 287.27,118 287.73,119.63 286.32,118.69 284.91,119.63 285.37,118 284.04,116.95 285.73,116.88" fill="#d0d0d0" stroke="#bdbdbd" stroke-width="0.8"/>
<polygon points="288.83,93.61 289.42,95.2 291.11,95.27 289.78,96.32 290.24,97.95 288.83,97.01 287.42,97.95 287.88,96.32 286.55,95.27 288.24,95.2" fill="#d0d0d0" stroke="#bdbdbd" stroke-width="0.8"/>
<polygon points="288.41,71.93 289,73.52 290.69,73.59 289.36,74.64 289.82,76.27 288.41,75.33 287,76.27 287.46,74.64 286.13,73.59 287.82,73.52" fill="#d0d0d0" stroke="#bdbdbd" stroke-width="0.8"/>
<polygon points="282.14,50.26 282.73,51.85 284.42,51.91 283.09,52.96 283.55,54.6 282.14,53.66 280.73,54.6 281.19,52.96 279.86,51.91 281.55,51.85" fill="#d0d0d0" stroke="#bdbdbd" stroke-width="0.8"/>
<polygon points="285.07,28.58 285.65,30.17 287.35,30.24 286.02,31.29 286.48,32.92 285.07,31.98 283.66,32.92 284.11,31.29 282.78,30.24 284.48,30.17" fill="#d0d0d0" stroke="#bdbdbd" stroke-width="0.8"/>
<polygon points="282.14,6.9 282.73,8.49 284.42,8.56 283.09,9.61 283.55,11.24 282.14,10.3 280.73,11.24 281.19,9.61 279.86,8.56 281.55,8.49" fill="#d0d0d0" stroke="#bdbdbd" stroke-width="0.8"/>
<polygon points="227.8,202.2 229.89,203.72 229.09,206.18 226.51,206.18 225.71,203.72" fill="none" stroke="#bdbdbd" stroke-width="0.8"/>
<polygon points="265.42,180.52 267.51,182.04 266.71,184.5 264.13,184.5 263.33,182.04" fill="none" stroke="#bdbdbd" stroke-width="0.8"/>
<polygon points="269.6,158.84 271.69,160.36 270.89,162.82 268.31,162.82 267.51,160.36" fill="none" stroke="#bdbdbd" stroke-width="0.8"/>
<polygon points="273.78,137.17 275.87,138.69 275.07,141.15 272.49,141.15 271.69,138.69" fill="none" stroke="#bdbdbd" stroke-width="0.8"/>
<polygon points="280.05,115.49 282.14,117.01 281.34,119.47 278.76,119.47 277.96,117.01" fill="none" stroke="#bdbdbd" stroke-width="0.8"/>
<polygon points="277.96,93.81 280.05,95.33 279.25,97.79 276.67,97.79 275.87,95.33" fill="none" stroke="#bdbdbd" stroke-width="0.8"/>
<polygon points="277.96,72.13 280.05,73.65 279.25,76.11 276.67,76.11 275.87,73.65" fill="none" stroke="#bdbdbd" stroke-width="0.8"/>
<polygon points="290.5,50.46 292.59,51.98 291.79,54.44 289.21,54.44 288.41,51.98" fill="none" stroke="#bdbdbd" stroke-width="0.8"/>
<polygon points="294.68,28.78 296.77,30.3 295.97,32.76 293.39,32.76 292.59,30.3" fill="none" stroke="#bdbdbd" stroke-width="0.8"/>
<polygon points="292.17,7.1 294.26,8.62 293.47,11.08 290.88,11.08 290.08,8.62" fill="none" stroke="#bdbdbd" stroke-width="0.8"/>
<rect x="226" y="202.6" width="3.6" height="3.6" fill="#dcdcdc" stroke="#cfcfcf" stroke-width="0.8"/>
<rect x="266.55" y="180.92" width="3.6" height="3.6" fill="#dcdcdc" stroke="#cfcfcf" stroke-width="0.8"/>
<rect x="276.16" y="159.24" width="3.6" height="3.6" fill="#dcdcdc" stroke="#cfcfcf" stroke-width="0.8"/>
<rect x="276.16" y="137.57" width="3.6" height="3.6" fill="#dcdcdc" stroke="#cfcfcf" stroke-width="0.8"/>
<rect x="280.34" y="115.89" width="3.6" height="3.6" fill="#dcdcdc" stroke="#cfcfcf" stroke-width="0.8"/>
<rect x="278.25" y="94.21" width="3.6" height="3.6" fill="#dcdcdc" stroke="#cfcfcf" stroke-width="0.8"/>
<rect x="280.34" y="72.53" width="3.6" height="3.6" fill="#dcdcdc" stroke="#cfcfcf" stroke-width="0.8"/>
<rect x="282.43" y="50.86" width="3.6" height="3.6" fill="#dcdcdc" stroke="#cfcfcf" stroke-width="0.8"/>
<rect x="284.52" y="29.18" width="3.6" height="3.6" fill="#dcdcdc" stroke="#cfcfcf" stroke-width="0.8"/>
<rect x="282.43" y="7.5" width="3.6" height="3.6" fill="#dcdcdc" stroke="#cfcfcf" stroke-width="0.8"/>
<circle cx="227.8" cy="204.4" r="2.1" fill="#dedede" stroke="#cccccc" stroke-width="0.8"/><circle cx="227.8" cy="204.4" r="0.8" fill="#c8c8c8"/>
<circle cx="265.42" cy="182.72" r="2.1" fill="#dedede" stroke="#cccccc" stroke-width="0.8"/><circle cx="265.42" cy="182.72" r="0.8" fill="#c8c8c8"/>
<circle cx="273.78" cy="161.04" r="2.1" fill="#dedede" stroke="#cccccc" stroke-width="0.8"/><circle cx="273.78" cy="161.04" r="0.8" fill="#c8c8c8"/>
<circle cx="280.05" cy="139.37" r="2.1" fill="#dedede" stroke="#cccccc" stroke-width="0.8"/><circle cx="280.05" cy="139.37" r="0.8" fill="#c8c8c8"/>
<circle cx="284.23" cy="117.69" r="2.1" fill="#dedede" stroke="#cccccc" stroke-width="0.8"/><circle cx="284.23" cy="117.69" r="0.8" fill="#c8c8c8"/>
<circle cx="282.14" cy="96.01" r="2.1" fill="#dedede" stroke="#cccccc" stroke-width="0.8"/><circle cx="282.14" cy="96.01" r="0.8" fill="#c8c8c8"/>
<circle cx="280.05" cy="74.33" r="2.1" fill="#dedede" stroke="#cccccc" stroke-width="0.8"/><circle cx="280.05" cy="74.33" r="0.8" fill="#c8c8c8"/>
<circle cx="288.41" cy="52.66" r="2.1" fill="#dedede" stroke="#cccccc" stroke-width="0.8"/><circle cx="288.41" cy="52.66" r="0.8" fill="#c8c8c8"/>
<circle cx="290.5" cy="30.98" r="2.1" fill="#dedede" stroke="#cccccc" stroke-width="0.8"/><circle cx="290.5" cy="30.98" r="0.8" fill="#c8c8c8"/>
<circle cx="272.11" cy="9.3" r="2.1" fill="#dedede" stroke="#cccccc" stroke-width="0.8"/><circle cx="272.11" cy="9.3" r="0.8" fill="#c8c8c8"/>
<polyline points="227.8,204.4 266.67,182.72 277.54,161.04 280.89,139.37 287.16,117.69 285.07,96.01 284.65,74.33 290.71,52.66 295.93,30.98 290.71,9.3" fill="none" stroke="#0c0cf8" stroke-width="1.75" stroke-linejoin="miter"/>
</g>
<path d="M290.5,9.3V204.4" stroke="#f51010" stroke-width="1.65" stroke-dasharray="8.5 5.9"/>
<rect x="229.6" y="10.9" width="41.8" height="135.5" fill="#fff" stroke="#c8c8c8" stroke-width="0.8"/>
<path d="M231.6,17.3H250" stroke="#c6c6c6" stroke-width="1.6"/>
<rect x="238.8" y="15.3" width="4" height="4" fill="#d8d8d8" stroke="#bdbdbd" stroke-width="0.8"/>
<text x="251.8" y="20.1" font-size="8" text-anchor="start">G1</text>
<path d="M231.6,27.58H250" stroke="#c6c6c6" stroke-width="1.0"/>
<circle cx="240.8" cy="27.58" r="2.35" fill="none" stroke="#bdbdbd" stroke-width="0.8"/>
<text x="251.8" y="30.38" font-size="8" text-anchor="start">G2</text>
<path d="M231.6,37.86H250" stroke="#c6c6c6" stroke-width="1.0"/>
<path d="M240.8,35.27L243.27,39.62L238.33,39.62Z" fill="none" stroke="#bdbdbd" stroke-width="0.8"/>
<text x="251.8" y="40.66" font-size="8" text-anchor="start">G3</text>
<path d="M231.6,48.14H250" stroke="#c6c6c6" stroke-width="1.0"/>
<path d="M240.8,50.73L243.27,46.38L238.33,46.38Z" fill="none" stroke="#bdbdbd" stroke-width="0.8"/>
<text x="251.8" y="50.94" font-size="8" text-anchor="start">G4</text>
<path d="M231.6,58.42H250" stroke="#c6c6c6" stroke-width="1.0"/>
<path d="M240.8,55.72L243.5,58.42L240.8,61.12L238.1,58.42Z" fill="none" stroke="#bdbdbd" stroke-width="0.8"/>
<text x="251.8" y="61.22" font-size="8" text-anchor="start">G5</text>
<path d="M231.6,68.7H250" stroke="#c6c6c6" stroke-width="1.0"/>
<path d="M238.22,68.7L242.56,66.23L242.56,71.17Z" fill="none" stroke="#bdbdbd" stroke-width="0.8"/>
<text x="251.8" y="71.5" font-size="8" text-anchor="start">G6</text>
<path d="M231.6,78.98H250" stroke="#c6c6c6" stroke-width="1.0"/>
<path d="M243.39,78.98L239.04,76.51L239.04,81.45Z" fill="none" stroke="#bdbdbd" stroke-width="0.8"/>
<text x="251.8" y="81.78" font-size="8" text-anchor="start">G7</text>
<path d="M231.6,89.26H250" stroke="#c6c6c6" stroke-width="1.0"/>
<polygon points="243.27,89.26 242.03,91.4 239.57,91.4 238.33,89.26 239.57,87.12 242.03,87.12" fill="none" stroke="#bdbdbd" stroke-width="0.8"/>
<text x="251.8" y="92.06" font-size="8" text-anchor="start">G8</text>
<path d="M231.6,99.54H250" stroke="#c6c6c6" stroke-width="1.0"/>
<polygon points="240.8,96.72 241.49,98.59 243.48,98.67 241.92,99.9 242.46,101.82 240.8,100.71 239.14,101.82 239.68,99.9 238.12,98.67 240.11,98.59" fill="#d0d0d0" stroke="#bdbdbd" stroke-width="0.8"/>
<text x="251.8" y="102.34" font-size="8" text-anchor="start">G9</text>
<path d="M231.6,109.82H250" stroke="#c6c6c6" stroke-width="1.0"/>
<polygon points="240.8,107.23 243.26,109.02 242.32,111.91 239.28,111.91 238.34,109.02" fill="none" stroke="#bdbdbd" stroke-width="0.8"/>
<text x="251.8" y="112.62" font-size="8" text-anchor="start">G10</text>
<path d="M231.6,120.1H250" stroke="#c6c6c6" stroke-width="1.0"/>
<rect x="238.69" y="117.98" width="4.23" height="4.23" fill="#dcdcdc" stroke="#cfcfcf" stroke-width="0.8"/>
<text x="251.8" y="122.9" font-size="8" text-anchor="start">G11</text>
<path d="M231.6,130.38H250" stroke="#c6c6c6" stroke-width="1.0"/>
<circle cx="240.8" cy="130.38" r="2.47" fill="#dedede" stroke="#cccccc" stroke-width="0.8"/><circle cx="240.8" cy="130.38" r="0.8" fill="#c8c8c8"/>
<text x="251.8" y="133.18" font-size="8" text-anchor="start">G12</text>
<path d="M231.6,140.66H250" stroke="#0c0cf8" stroke-width="1.75"/>
<text x="251.8" y="143.46" font-size="8" text-anchor="start">Mean</text>
<path d="M227.8,204.4v3.4M248.7,204.4v3.4M269.6,204.4v3.4M290.5,204.4v3.4M311.4,204.4v3.4M332.3,204.4v3.4M238.25,204.4v2M259.15,204.4v2M280.05,204.4v2M300.95,204.4v2M321.85,204.4v2M227.8,204.4h-3.4M227.8,182.72h-3.4M227.8,161.04h-3.4M227.8,139.37h-3.4M227.8,117.69h-3.4M227.8,96.01h-3.4M227.8,74.33h-3.4M227.8,52.66h-3.4M227.8,30.98h-3.4M227.8,9.3h-3.4" stroke="#1a1a1a" stroke-width="1"/>
<text x="227.8" y="216.6" font-size="7.6" text-anchor="middle">0.0</text>
<text x="248.7" y="216.6" font-size="7.6" text-anchor="middle">0.5</text>
<text x="269.6" y="216.6" font-size="7.6" text-anchor="middle">1.0</text>
<text x="290.5" y="216.6" font-size="7.6" text-anchor="middle">1.5</text>
<text x="311.4" y="216.6" font-size="7.6" text-anchor="middle">2.0</text>
<text x="332.3" y="216.6" font-size="7.6" text-anchor="middle">2.5</text>
<text x="222.3" y="206.98" font-size="7.6" text-anchor="end">0</text>
<text x="222.3" y="185.31" font-size="7.6" text-anchor="end">1</text>
<text x="222.3" y="163.63" font-size="7.6" text-anchor="end">2</text>
<text x="222.3" y="141.95" font-size="7.6" text-anchor="end">3</text>
<text x="222.3" y="120.27" font-size="7.6" text-anchor="end">4</text>
<text x="222.3" y="98.6" font-size="7.6" text-anchor="end">5</text>
<text x="222.3" y="76.92" font-size="7.6" text-anchor="end">6</text>
<text x="222.3" y="55.24" font-size="7.6" text-anchor="end">7</text>
<text x="222.3" y="33.56" font-size="7.6" text-anchor="end">8</text>
<text x="222.3" y="11.88" font-size="7.6" text-anchor="end">9</text>
<text x="286.6" y="196.9" font-size="9.3" text-anchor="start" textLength="43.4" lengthAdjust="spacingAndGlyphs">Target 1.5%</text>
<text x="280.05" y="227.2" font-size="8.8" text-anchor="middle" textLength="35.5" lengthAdjust="spacingAndGlyphs">ISDR (%)</text>
<text transform="translate(215.6,106.9) rotate(-90)" font-size="9.6" text-anchor="middle" textLength="39.2" lengthAdjust="spacingAndGlyphs">Story level</text>
<text x="208.4" y="247" font-size="14.8" style="stroke-width:0.12px" textLength="129.8" lengthAdjust="spacingAndGlyphs">(<tspan font-weight="bold">b</tspan>) Prototype, DBE</text>
<path d="M458.62,9.2V204.1M485.25,9.2V204.1M511.88,9.2V204.1M445.31,9.2V204.1M471.94,9.2V204.1M498.56,9.2V204.1M525.19,9.2V204.1M432,193.27H538.5M432,182.44H538.5M432,171.62H538.5M432,160.79H538.5M432,149.96H538.5M432,139.13H538.5M432,128.31H538.5M432,117.48H538.5M432,106.65H538.5M432,95.82H538.5M432,84.99H538.5M432,74.17H538.5M432,63.34H538.5M432,52.51H538.5M432,41.68H538.5M432,30.86H538.5M432,20.03H538.5" stroke="#ececec" stroke-width="0.6" fill="none"/>
<rect x="432" y="9.2" width="106.5" height="194.9" fill="none" stroke="#151515" stroke-width="1.35"/>
<clipPath id="clipc"><rect x="428" y="5.2" width="110.5" height="202.9"/></clipPath>
<g clip-path="url(#clipc)">
<polyline points="432,204.1 472.47,182.44 488.98,160.79 496.43,139.13 497.76,117.48 494.04,95.82 492.17,74.17 502.02,52.51 491.64,30.86 489.78,9.2" fill="none" stroke="#c6c6c6" stroke-width="0.8"/>
<polyline points="432,204.1 483.12,182.44 508.68,160.79 524.12,139.13 535.04,117.48 525.45,95.82 508.68,74.17 506.55,52.51 509.21,30.86 506.28,9.2" fill="none" stroke="#c6c6c6" stroke-width="0.8"/>
<polyline points="432,204.1 466.61,182.44 477,160.79 482.06,139.13 485.52,117.48 484.19,95.82 480.72,74.17 480.99,52.51 479.93,30.86 483.39,9.2" fill="none" stroke="#c6c6c6" stroke-width="0.8"/>
<polyline points="432,204.1 474.6,182.44 500.16,160.79 518,139.13 529.18,117.48 523.06,95.82 501.23,74.17 492.17,52.51 503.36,30.86 496.43,9.2" fill="none" stroke="#c6c6c6" stroke-width="0.8"/>
<polyline points="432,204.1 457.83,182.44 466.35,160.79 478.06,139.13 478.06,117.48 477.26,95.82 478.59,74.17 477.26,52.51 477.26,30.86 477.8,9.2" fill="none" stroke="#c6c6c6" stroke-width="0.8"/>
<polyline points="432,204.1 466.61,182.44 478.59,160.79 479.93,139.13 481.26,117.48 481.26,95.82 474.6,74.17 471.94,52.51 471.94,30.86 471.14,9.2" fill="none" stroke="#c6c6c6" stroke-width="0.8"/>
<polyline points="432,204.1 469.27,182.44 488.98,160.79 506.02,139.13 509.75,117.48 508.68,95.82 492.17,74.17 495.37,52.51 497.76,30.86 483.12,9.2" fill="none" stroke="#c6c6c6" stroke-width="0.8"/>
<polyline points="432,204.1 465.28,182.44 477.26,160.79 479.93,139.13 482.59,117.48 483.65,95.82 480.99,74.17 480.99,52.51 491.64,30.86 493.24,9.2" fill="none" stroke="#c6c6c6" stroke-width="0.8"/>
<polyline points="432,204.1 461.29,182.44 469.27,160.79 471.94,139.13 471.94,117.48 470.61,95.82 469.27,74.17 470.61,52.51 471.94,30.86 473.27,9.2" fill="none" stroke="#c6c6c6" stroke-width="0.8"/>
<polyline points="432,204.1 463.95,182.44 474.6,160.79 477.26,139.13 478.59,117.48 474.6,95.82 471.94,74.17 471.94,52.51 470.61,30.86 471.94,9.2" fill="none" stroke="#c6c6c6" stroke-width="0.8"/>
<polyline points="432,204.1 458.62,182.44 466.61,160.79 469.27,139.13 469.27,117.48 469.27,95.82 467.94,74.17 469.27,52.51 470.61,30.86 471.94,9.2" fill="none" stroke="#c6c6c6" stroke-width="0.8"/>
<polyline points="432,204.1 466.61,182.44 479.93,160.79 481.26,139.13 482.59,117.48 479.93,95.82 477.26,74.17 474.6,52.51 473.27,30.86 474.6,9.2" fill="none" stroke="#c6c6c6" stroke-width="0.8"/>
<rect x="430.3" y="202.4" width="3.4" height="3.4" fill="#d8d8d8" stroke="#bdbdbd" stroke-width="0.8"/>
<rect x="470.77" y="180.74" width="3.4" height="3.4" fill="#d8d8d8" stroke="#bdbdbd" stroke-width="0.8"/>
<rect x="487.28" y="159.09" width="3.4" height="3.4" fill="#d8d8d8" stroke="#bdbdbd" stroke-width="0.8"/>
<rect x="494.73" y="137.43" width="3.4" height="3.4" fill="#d8d8d8" stroke="#bdbdbd" stroke-width="0.8"/>
<rect x="496.06" y="115.78" width="3.4" height="3.4" fill="#d8d8d8" stroke="#bdbdbd" stroke-width="0.8"/>
<rect x="492.34" y="94.12" width="3.4" height="3.4" fill="#d8d8d8" stroke="#bdbdbd" stroke-width="0.8"/>
<rect x="490.47" y="72.47" width="3.4" height="3.4" fill="#d8d8d8" stroke="#bdbdbd" stroke-width="0.8"/>
<rect x="500.32" y="50.81" width="3.4" height="3.4" fill="#d8d8d8" stroke="#bdbdbd" stroke-width="0.8"/>
<rect x="489.94" y="29.16" width="3.4" height="3.4" fill="#d8d8d8" stroke="#bdbdbd" stroke-width="0.8"/>
<rect x="488.08" y="7.5" width="3.4" height="3.4" fill="#d8d8d8" stroke="#bdbdbd" stroke-width="0.8"/>
<circle cx="432" cy="204.1" r="2" fill="none" stroke="#bdbdbd" stroke-width="0.8"/>
<circle cx="483.12" cy="182.44" r="2" fill="none" stroke="#bdbdbd" stroke-width="0.8"/>
<circle cx="508.68" cy="160.79" r="2" fill="none" stroke="#bdbdbd" stroke-width="0.8"/>
<circle cx="524.12" cy="139.13" r="2" fill="none" stroke="#bdbdbd" stroke-width="0.8"/>
<circle cx="535.04" cy="117.48" r="2" fill="none" stroke="#bdbdbd" stroke-width="0.8"/>
<circle cx="525.45" cy="95.82" r="2" fill="none" stroke="#bdbdbd" stroke-width="0.8"/>
<circle cx="508.68" cy="74.17" r="2" fill="none" stroke="#bdbdbd" stroke-width="0.8"/>
<circle cx="506.55" cy="52.51" r="2" fill="none" stroke="#bdbdbd" stroke-width="0.8"/>
<circle cx="509.21" cy="30.86" r="2" fill="none" stroke="#bdbdbd" stroke-width="0.8"/>
<circle cx="506.28" cy="9.2" r="2" fill="none" stroke="#bdbdbd" stroke-width="0.8"/>
<path d="M432,201.9L434.1,205.6L429.9,205.6Z" fill="none" stroke="#bdbdbd" stroke-width="0.8"/>
<path d="M466.61,180.24L468.71,183.94L464.51,183.94Z" fill="none" stroke="#bdbdbd" stroke-width="0.8"/>
<path d="M477,158.59L479.1,162.29L474.9,162.29Z" fill="none" stroke="#bdbdbd" stroke-width="0.8"/>
<path d="M482.06,136.93L484.16,140.63L479.95,140.63Z" fill="none" stroke="#bdbdbd" stroke-width="0.8"/>
<path d="M485.52,115.28L487.62,118.98L483.42,118.98Z" fill="none" stroke="#bdbdbd" stroke-width="0.8"/>
<path d="M484.19,93.62L486.29,97.32L482.08,97.32Z" fill="none" stroke="#bdbdbd" stroke-width="0.8"/>
<path d="M480.72,71.97L482.82,75.67L478.62,75.67Z" fill="none" stroke="#bdbdbd" stroke-width="0.8"/>
<path d="M480.99,50.31L483.09,54.01L478.89,54.01Z" fill="none" stroke="#bdbdbd" stroke-width="0.8"/>
<path d="M479.93,28.66L482.03,32.36L477.82,32.36Z" fill="none" stroke="#bdbdbd" stroke-width="0.8"/>
<path d="M483.39,7L485.49,10.7L481.29,10.7Z" fill="none" stroke="#bdbdbd" stroke-width="0.8"/>
<path d="M432,206.3L434.1,202.6L429.9,202.6Z" fill="none" stroke="#bdbdbd" stroke-width="0.8"/>
<path d="M474.6,184.64L476.7,180.94L472.5,180.94Z" fill="none" stroke="#bdbdbd" stroke-width="0.8"/>
<path d="M500.16,162.99L502.26,159.29L498.06,159.29Z" fill="none" stroke="#bdbdbd" stroke-width="0.8"/>
<path d="M518,141.33L520.1,137.63L515.9,137.63Z" fill="none" stroke="#bdbdbd" stroke-width="0.8"/>
<path d="M529.18,119.68L531.28,115.98L527.08,115.98Z" fill="none" stroke="#bdbdbd" stroke-width="0.8"/>
<path d="M523.06,98.02L525.16,94.32L520.96,94.32Z" fill="none" stroke="#bdbdbd" stroke-width="0.8"/>
<path d="M501.23,76.37L503.33,72.67L499.12,72.67Z" fill="none" stroke="#bdbdbd" stroke-width="0.8"/>
<path d="M492.17,54.71L494.27,51.01L490.07,51.01Z" fill="none" stroke="#bdbdbd" stroke-width="0.8"/>
<path d="M503.36,33.06L505.46,29.36L501.25,29.36Z" fill="none" stroke="#bdbdbd" stroke-width="0.8"/>
<path d="M496.43,11.4L498.53,7.7L494.33,7.7Z" fill="none" stroke="#bdbdbd" stroke-width="0.8"/>
<path d="M432,201.8L434.3,204.1L432,206.4L429.7,204.1Z" fill="none" stroke="#bdbdbd" stroke-width="0.8"/>
<path d="M457.83,180.14L460.13,182.44L457.83,184.74L455.53,182.44Z" fill="none" stroke="#bdbdbd" stroke-width="0.8"/>
<path d="M466.35,158.49L468.65,160.79L466.35,163.09L464.05,160.79Z" fill="none" stroke="#bdbdbd" stroke-width="0.8"/>
<path d="M478.06,136.83L480.36,139.13L478.06,141.43L475.76,139.13Z" fill="none" stroke="#bdbdbd" stroke-width="0.8"/>
<path d="M478.06,115.18L480.36,117.48L478.06,119.78L475.76,117.48Z" fill="none" stroke="#bdbdbd" stroke-width="0.8"/>
<path d="M477.26,93.52L479.56,95.82L477.26,98.12L474.96,95.82Z" fill="none" stroke="#bdbdbd" stroke-width="0.8"/>
<path d="M478.59,71.87L480.89,74.17L478.59,76.47L476.29,74.17Z" fill="none" stroke="#bdbdbd" stroke-width="0.8"/>
<path d="M477.26,50.21L479.56,52.51L477.26,54.81L474.96,52.51Z" fill="none" stroke="#bdbdbd" stroke-width="0.8"/>
<path d="M477.26,28.56L479.56,30.86L477.26,33.16L474.96,30.86Z" fill="none" stroke="#bdbdbd" stroke-width="0.8"/>
<path d="M477.8,6.9L480.1,9.2L477.8,11.5L475.5,9.2Z" fill="none" stroke="#bdbdbd" stroke-width="0.8"/>
<path d="M429.8,204.1L433.5,202L433.5,206.2Z" fill="none" stroke="#bdbdbd" stroke-width="0.8"/>
<path d="M464.41,182.44L468.11,180.34L468.11,184.54Z" fill="none" stroke="#bdbdbd" stroke-width="0.8"/>
<path d="M476.39,160.79L480.09,158.69L480.09,162.89Z" fill="none" stroke="#bdbdbd" stroke-width="0.8"/>
<path d="M477.73,139.13L481.43,137.03L481.43,141.23Z" fill="none" stroke="#bdbdbd" stroke-width="0.8"/>
<path d="M479.06,117.48L482.76,115.38L482.76,119.58Z" fill="none" stroke="#bdbdbd" stroke-width="0.8"/>
<path d="M479.06,95.82L482.76,93.72L482.76,97.92Z" fill="none" stroke="#bdbdbd" stroke-width="0.8"/>
<path d="M472.4,74.17L476.1,72.07L476.1,76.27Z" fill="none" stroke="#bdbdbd" stroke-width="0.8"/>
<path d="M469.74,52.51L473.44,50.41L473.44,54.61Z" fill="none" stroke="#bdbdbd" stroke-width="0.8"/>
<path d="M469.74,30.86L473.44,28.76L473.44,32.96Z" fill="none" stroke="#bdbdbd" stroke-width="0.8"/>
<path d="M468.94,9.2L472.64,7.1L472.64,11.3Z" fill="none" stroke="#bdbdbd" stroke-width="0.8"/>
<path d="M434.2,204.1L430.5,202L430.5,206.2Z" fill="none" stroke="#bdbdbd" stroke-width="0.8"/>
<path d="M471.47,182.44L467.77,180.34L467.77,184.54Z" fill="none" stroke="#bdbdbd" stroke-width="0.8"/>
<path d="M491.18,160.79L487.48,158.69L487.48,162.89Z" fill="none" stroke="#bdbdbd" stroke-width="0.8"/>
<path d="M508.22,139.13L504.52,137.03L504.52,141.23Z" fill="none" stroke="#bdbdbd" stroke-width="0.8"/>
<path d="M511.94,117.48L508.25,115.38L508.25,119.58Z" fill="none" stroke="#bdbdbd" stroke-width="0.8"/>
<path d="M510.88,95.82L507.18,93.72L507.18,97.92Z" fill="none" stroke="#bdbdbd" stroke-width="0.8"/>
<path d="M494.37,74.17L490.67,72.07L490.67,76.27Z" fill="none" stroke="#bdbdbd" stroke-width="0.8"/>
<path d="M497.57,52.51L493.87,50.41L493.87,54.61Z" fill="none" stroke="#bdbdbd" stroke-width="0.8"/>
<path d="M499.96,30.86L496.26,28.76L496.26,32.96Z" fill="none" stroke="#bdbdbd" stroke-width="0.8"/>
<path d="M485.32,9.2L481.62,7.1L481.62,11.3Z" fill="none" stroke="#bdbdbd" stroke-width="0.8"/>
<polygon points="434.1,204.1 433.05,205.92 430.95,205.92 429.9,204.1 430.95,202.28 433.05,202.28" fill="none" stroke="#bdbdbd" stroke-width="0.8"/>
<polygon points="467.38,182.44 466.33,184.26 464.23,184.26 463.18,182.44 464.23,180.63 466.33,180.63" fill="none" stroke="#bdbdbd" stroke-width="0.8"/>
<polygon points="479.36,160.79 478.31,162.61 476.21,162.61 475.16,160.79 476.21,158.97 478.31,158.97" fill="none" stroke="#bdbdbd" stroke-width="0.8"/>
<polygon points="482.03,139.13 480.98,140.95 478.88,140.95 477.82,139.13 478.88,137.31 480.98,137.31" fill="none" stroke="#bdbdbd" stroke-width="0.8"/>
<polygon points="484.69,117.48 483.64,119.3 481.54,119.3 480.49,117.48 481.54,115.66 483.64,115.66" fill="none" stroke="#bdbdbd" stroke-width="0.8"/>
<polygon points="485.75,95.82 484.7,97.64 482.6,97.64 481.55,95.82 482.6,94 484.7,94" fill="none" stroke="#bdbdbd" stroke-width="0.8"/>
<polygon points="483.09,74.17 482.04,75.99 479.94,75.99 478.89,74.17 479.94,72.35 482.04,72.35" fill="none" stroke="#bdbdbd" stroke-width="0.8"/>
<polygon points="483.09,52.51 482.04,54.33 479.94,54.33 478.89,52.51 479.94,50.69 482.04,50.69" fill="none" stroke="#bdbdbd" stroke-width="0.8"/>
<polygon points="493.74,30.86 492.69,32.67 490.59,32.67 489.54,30.86 490.59,29.04 492.69,29.04" fill="none" stroke="#bdbdbd" stroke-width="0.8"/>
<polygon points="495.34,9.2 494.29,11.02 492.19,11.02 491.14,9.2 492.19,7.38 494.29,7.38" fill="none" stroke="#bdbdbd" stroke-width="0.8"/>
<polygon points="432,201.7 432.59,203.29 434.28,203.36 432.95,204.41 433.41,206.04 432,205.1 430.59,206.04 431.05,204.41 429.72,203.36 431.41,203.29" fill="#d0d0d0" stroke="#bdbdbd" stroke-width="0.8"/>
<polygon points="461.29,180.04 461.88,181.64 463.57,181.7 462.24,182.75 462.7,184.39 461.29,183.44 459.88,184.39 460.34,182.75 459,181.7 460.7,181.64" fill="#d0d0d0" stroke="#bdbdbd" stroke-width="0.8"/>
<polygon points="469.27,158.39 469.86,159.98 471.56,160.05 470.23,161.1 470.69,162.73 469.27,161.79 467.86,162.73 468.32,161.1 466.99,160.05 468.69,159.98" fill="#d0d0d0" stroke="#bdbdbd" stroke-width="0.8"/>
<polygon points="471.94,136.73 472.53,138.32 474.22,138.39 472.89,139.44 473.35,141.07 471.94,140.13 470.53,141.07 470.99,139.44 469.65,138.39 471.35,138.32" fill="#d0d0d0" stroke="#bdbdbd" stroke-width="0.8"/>
<polygon points="471.94,115.08 472.53,116.67 474.22,116.74 472.89,117.79 473.35,119.42 471.94,118.48 470.53,119.42 470.99,117.79 469.65,116.74 471.35,116.67" fill="#d0d0d0" stroke="#bdbdbd" stroke-width="0.8"/>
<polygon points="470.61,93.42 471.19,95.01 472.89,95.08 471.56,96.13 472.02,97.76 470.61,96.82 469.2,97.76 469.66,96.13 468.32,95.08 470.02,95.01" fill="#d0d0d0" stroke="#bdbdbd" stroke-width="0.8"/>
<polygon points="469.27,71.77 469.86,73.36 471.56,73.43 470.23,74.48 470.69,76.11 469.27,75.17 467.86,76.11 468.32,74.48 466.99,73.43 468.69,73.36" fill="#d0d0d0" stroke="#bdbdbd" stroke-width="0.8"/>
<polygon points="470.61,50.11 471.19,51.7 472.89,51.77 471.56,52.82 472.02,54.45 470.61,53.51 469.2,54.45 469.66,52.82 468.32,51.77 470.02,51.7" fill="#d0d0d0" stroke="#bdbdbd" stroke-width="0.8"/>
<polygon points="471.94,28.46 472.53,30.05 474.22,30.11 472.89,31.16 473.35,32.8 471.94,31.86 470.53,32.8 470.99,31.16 469.65,30.11 471.35,30.05" fill="#d0d0d0" stroke="#bdbdbd" stroke-width="0.8"/>
<polygon points="473.27,6.8 473.86,8.39 475.55,8.46 474.22,9.51 474.68,11.14 473.27,10.2 471.86,11.14 472.32,9.51 470.99,8.46 472.68,8.39" fill="#d0d0d0" stroke="#bdbdbd" stroke-width="0.8"/>
<polygon points="432,201.9 434.09,203.42 433.29,205.88 430.71,205.88 429.91,203.42" fill="none" stroke="#bdbdbd" stroke-width="0.8"/>
<polygon points="463.95,180.24 466.04,181.76 465.24,184.22 462.66,184.22 461.86,181.76" fill="none" stroke="#bdbdbd" stroke-width="0.8"/>
<polygon points="474.6,158.59 476.69,160.11 475.89,162.57 473.31,162.57 472.51,160.11" fill="none" stroke="#bdbdbd" stroke-width="0.8"/>
<polygon points="477.26,136.93 479.35,138.45 478.56,140.91 475.97,140.91 475.17,138.45" fill="none" stroke="#bdbdbd" stroke-width="0.8"/>
<polygon points="478.59,115.28 480.69,116.8 479.89,119.26 477.3,119.26 476.5,116.8" fill="none" stroke="#bdbdbd" stroke-width="0.8"/>
<polygon points="474.6,93.62 476.69,95.14 475.89,97.6 473.31,97.6 472.51,95.14" fill="none" stroke="#bdbdbd" stroke-width="0.8"/>
<polygon points="471.94,71.97 474.03,73.49 473.23,75.95 470.64,75.95 469.85,73.49" fill="none" stroke="#bdbdbd" stroke-width="0.8"/>
<polygon points="471.94,50.31 474.03,51.83 473.23,54.29 470.64,54.29 469.85,51.83" fill="none" stroke="#bdbdbd" stroke-width="0.8"/>
<polygon points="470.61,28.66 472.7,30.18 471.9,32.64 469.31,32.64 468.51,30.18" fill="none" stroke="#bdbdbd" stroke-width="0.8"/>
<polygon points="471.94,7 474.03,8.52 473.23,10.98 470.64,10.98 469.85,8.52" fill="none" stroke="#bdbdbd" stroke-width="0.8"/>
<rect x="430.2" y="202.3" width="3.6" height="3.6" fill="#dcdcdc" stroke="#cfcfcf" stroke-width="0.8"/>
<rect x="456.82" y="180.64" width="3.6" height="3.6" fill="#dcdcdc" stroke="#cfcfcf" stroke-width="0.8"/>
<rect x="464.81" y="158.99" width="3.6" height="3.6" fill="#dcdcdc" stroke="#cfcfcf" stroke-width="0.8"/>
<rect x="467.47" y="137.33" width="3.6" height="3.6" fill="#dcdcdc" stroke="#cfcfcf" stroke-width="0.8"/>
<rect x="467.47" y="115.68" width="3.6" height="3.6" fill="#dcdcdc" stroke="#cfcfcf" stroke-width="0.8"/>
<rect x="467.47" y="94.02" width="3.6" height="3.6" fill="#dcdcdc" stroke="#cfcfcf" stroke-width="0.8"/>
<rect x="466.14" y="72.37" width="3.6" height="3.6" fill="#dcdcdc" stroke="#cfcfcf" stroke-width="0.8"/>
<rect x="467.47" y="50.71" width="3.6" height="3.6" fill="#dcdcdc" stroke="#cfcfcf" stroke-width="0.8"/>
<rect x="468.81" y="29.06" width="3.6" height="3.6" fill="#dcdcdc" stroke="#cfcfcf" stroke-width="0.8"/>
<rect x="470.14" y="7.4" width="3.6" height="3.6" fill="#dcdcdc" stroke="#cfcfcf" stroke-width="0.8"/>
<circle cx="432" cy="204.1" r="2.1" fill="#dedede" stroke="#cccccc" stroke-width="0.8"/><circle cx="432" cy="204.1" r="0.8" fill="#c8c8c8"/>
<circle cx="466.61" cy="182.44" r="2.1" fill="#dedede" stroke="#cccccc" stroke-width="0.8"/><circle cx="466.61" cy="182.44" r="0.8" fill="#c8c8c8"/>
<circle cx="479.93" cy="160.79" r="2.1" fill="#dedede" stroke="#cccccc" stroke-width="0.8"/><circle cx="479.93" cy="160.79" r="0.8" fill="#c8c8c8"/>
<circle cx="481.26" cy="139.13" r="2.1" fill="#dedede" stroke="#cccccc" stroke-width="0.8"/><circle cx="481.26" cy="139.13" r="0.8" fill="#c8c8c8"/>
<circle cx="482.59" cy="117.48" r="2.1" fill="#dedede" stroke="#cccccc" stroke-width="0.8"/><circle cx="482.59" cy="117.48" r="0.8" fill="#c8c8c8"/>
<circle cx="479.93" cy="95.82" r="2.1" fill="#dedede" stroke="#cccccc" stroke-width="0.8"/><circle cx="479.93" cy="95.82" r="0.8" fill="#c8c8c8"/>
<circle cx="477.26" cy="74.17" r="2.1" fill="#dedede" stroke="#cccccc" stroke-width="0.8"/><circle cx="477.26" cy="74.17" r="0.8" fill="#c8c8c8"/>
<circle cx="474.6" cy="52.51" r="2.1" fill="#dedede" stroke="#cccccc" stroke-width="0.8"/><circle cx="474.6" cy="52.51" r="0.8" fill="#c8c8c8"/>
<circle cx="473.27" cy="30.86" r="2.1" fill="#dedede" stroke="#cccccc" stroke-width="0.8"/><circle cx="473.27" cy="30.86" r="0.8" fill="#c8c8c8"/>
<circle cx="474.6" cy="9.2" r="2.1" fill="#dedede" stroke="#cccccc" stroke-width="0.8"/><circle cx="474.6" cy="9.2" r="0.8" fill="#c8c8c8"/>
<polyline points="432,204.1 467.41,182.44 482.85,160.79 486.85,139.13 493.24,117.48 488.71,95.82 486.05,74.17 486.05,52.51 486.05,30.86 485.25,9.2" fill="none" stroke="#0c0cf8" stroke-width="1.75" stroke-linejoin="miter"/>
</g>
<path d="M485.25,9.2V204.1" stroke="#f51010" stroke-width="1.65" stroke-dasharray="8.5 5.9"/>
<rect x="434.2" y="10.9" width="41.8" height="135.5" fill="#fff" stroke="#c8c8c8" stroke-width="0.8"/>
<path d="M435.6,17.3H454.2" stroke="#c6c6c6" stroke-width="1.6"/>
<rect x="442.9" y="15.3" width="4" height="4" fill="#d8d8d8" stroke="#bdbdbd" stroke-width="0.8"/>
<text x="456.5" y="20.1" font-size="8" text-anchor="start">G1</text>
<path d="M435.6,27.58H454.2" stroke="#c6c6c6" stroke-width="1.0"/>
<circle cx="444.9" cy="27.58" r="2.35" fill="none" stroke="#bdbdbd" stroke-width="0.8"/>
<text x="456.5" y="30.38" font-size="8" text-anchor="start">G2</text>
<path d="M435.6,37.86H454.2" stroke="#c6c6c6" stroke-width="1.0"/>
<path d="M444.9,35.27L447.37,39.62L442.43,39.62Z" fill="none" stroke="#bdbdbd" stroke-width="0.8"/>
<text x="456.5" y="40.66" font-size="8" text-anchor="start">G3</text>
<path d="M435.6,48.14H454.2" stroke="#c6c6c6" stroke-width="1.0"/>
<path d="M444.9,50.73L447.37,46.38L442.43,46.38Z" fill="none" stroke="#bdbdbd" stroke-width="0.8"/>
<text x="456.5" y="50.94" font-size="8" text-anchor="start">G4</text>
<path d="M435.6,58.42H454.2" stroke="#c6c6c6" stroke-width="1.0"/>
<path d="M444.9,55.72L447.6,58.42L444.9,61.12L442.2,58.42Z" fill="none" stroke="#bdbdbd" stroke-width="0.8"/>
<text x="456.5" y="61.22" font-size="8" text-anchor="start">G5</text>
<path d="M435.6,68.7H454.2" stroke="#c6c6c6" stroke-width="1.0"/>
<path d="M442.31,68.7L446.66,66.23L446.66,71.17Z" fill="none" stroke="#bdbdbd" stroke-width="0.8"/>
<text x="456.5" y="71.5" font-size="8" text-anchor="start">G6</text>
<path d="M435.6,78.98H454.2" stroke="#c6c6c6" stroke-width="1.0"/>
<path d="M447.48,78.98L443.14,76.51L443.14,81.45Z" fill="none" stroke="#bdbdbd" stroke-width="0.8"/>
<text x="456.5" y="81.78" font-size="8" text-anchor="start">G7</text>
<path d="M435.6,89.26H454.2" stroke="#c6c6c6" stroke-width="1.0"/>
<polygon points="447.37,89.26 446.13,91.4 443.67,91.4 442.43,89.26 443.67,87.12 446.13,87.12" fill="none" stroke="#bdbdbd" stroke-width="0.8"/>
<text x="456.5" y="92.06" font-size="8" text-anchor="start">G8</text>
<path d="M435.6,99.54H454.2" stroke="#c6c6c6" stroke-width="1.0"/>
<polygon points="444.9,96.72 445.59,98.59 447.58,98.67 446.02,99.9 446.56,101.82 444.9,100.71 443.24,101.82 443.78,99.9 442.22,98.67 444.21,98.59" fill="#d0d0d0" stroke="#bdbdbd" stroke-width="0.8"/>
<text x="456.5" y="102.34" font-size="8" text-anchor="start">G9</text>
<path d="M435.6,109.82H454.2" stroke="#c6c6c6" stroke-width="1.0"/>
<polygon points="444.9,107.23 447.36,109.02 446.42,111.91 443.38,111.91 442.44,109.02" fill="none" stroke="#bdbdbd" stroke-width="0.8"/>
<text x="456.5" y="112.62" font-size="8" text-anchor="start">G10</text>
<path d="M435.6,120.1H454.2" stroke="#c6c6c6" stroke-width="1.0"/>
<rect x="442.78" y="117.98" width="4.23" height="4.23" fill="#dcdcdc" stroke="#cfcfcf" stroke-width="0.8"/>
<text x="456.5" y="122.9" font-size="8" text-anchor="start">G11</text>
<path d="M435.6,130.38H454.2" stroke="#c6c6c6" stroke-width="1.0"/>
<circle cx="444.9" cy="130.38" r="2.47" fill="#dedede" stroke="#cccccc" stroke-width="0.8"/><circle cx="444.9" cy="130.38" r="0.8" fill="#c8c8c8"/>
<text x="456.5" y="133.18" font-size="8" text-anchor="start">G12</text>
<path d="M435.6,140.66H454.2" stroke="#0c0cf8" stroke-width="1.75"/>
<text x="456.5" y="143.46" font-size="8" text-anchor="start">Mean</text>
<path d="M432,204.1v3.4M458.62,204.1v3.4M485.25,204.1v3.4M511.88,204.1v3.4M538.5,204.1v3.4M445.31,204.1v2M471.94,204.1v2M498.56,204.1v2M525.19,204.1v2M432,204.1h-3.4M432,182.44h-3.4M432,160.79h-3.4M432,139.13h-3.4M432,117.48h-3.4M432,95.82h-3.4M432,74.17h-3.4M432,52.51h-3.4M432,30.86h-3.4M432,9.2h-3.4" stroke="#1a1a1a" stroke-width="1"/>
<text x="432" y="216.3" font-size="7.6" text-anchor="middle">0</text>
<text x="458.62" y="216.3" font-size="7.6" text-anchor="middle">1</text>
<text x="485.25" y="216.3" font-size="7.6" text-anchor="middle">2</text>
<text x="511.88" y="216.3" font-size="7.6" text-anchor="middle">3</text>
<text x="538.5" y="216.3" font-size="7.6" text-anchor="middle">4</text>
<text x="426.5" y="206.68" font-size="7.6" text-anchor="end">0</text>
<text x="426.5" y="185.03" font-size="7.6" text-anchor="end">1</text>
<text x="426.5" y="163.37" font-size="7.6" text-anchor="end">2</text>
<text x="426.5" y="141.72" font-size="7.6" text-anchor="end">3</text>
<text x="426.5" y="120.06" font-size="7.6" text-anchor="end">4</text>
<text x="426.5" y="98.41" font-size="7.6" text-anchor="end">5</text>
<text x="426.5" y="76.75" font-size="7.6" text-anchor="end">6</text>
<text x="426.5" y="55.1" font-size="7.6" text-anchor="end">7</text>
<text x="426.5" y="33.44" font-size="7.6" text-anchor="end">8</text>
<text x="426.5" y="11.78" font-size="7.6" text-anchor="end">9</text>
<text x="488" y="195.2" font-size="9.3" text-anchor="start" textLength="44.7" lengthAdjust="spacingAndGlyphs">Target 2.0%</text>
<text x="485.25" y="227.2" font-size="8.8" text-anchor="middle" textLength="35.5" lengthAdjust="spacingAndGlyphs">ISDR (%)</text>
<text transform="translate(419.2,106.7) rotate(-90)" font-size="9.6" text-anchor="middle" textLength="39.2" lengthAdjust="spacingAndGlyphs">Story level</text>
<text x="410.9" y="247" font-size="14.8" style="stroke-width:0.12px" textLength="130.9" lengthAdjust="spacingAndGlyphs">(<tspan font-weight="bold">c</tspan>) Prototype, MCE</text>
<path d="M50.77,258.7V445.5M76.35,258.7V445.5M101.92,258.7V445.5M37.99,258.7V445.5M63.56,258.7V445.5M89.14,258.7V445.5M114.71,258.7V445.5M25.2,435.12H127.5M25.2,424.74H127.5M25.2,414.37H127.5M25.2,403.99H127.5M25.2,393.61H127.5M25.2,383.23H127.5M25.2,372.86H127.5M25.2,362.48H127.5M25.2,352.1H127.5M25.2,341.72H127.5M25.2,331.34H127.5M25.2,320.97H127.5M25.2,310.59H127.5M25.2,300.21H127.5M25.2,289.83H127.5M25.2,279.46H127.5M25.2,269.08H127.5" stroke="#ececec" stroke-width="0.6" fill="none"/>
<rect x="25.2" y="258.7" width="102.3" height="186.8" fill="none" stroke="#151515" stroke-width="1.35"/>
<clipPath id="clipd"><rect x="21.2" y="254.7" width="106.3" height="194.8"/></clipPath>
<g clip-path="url(#clipd)">
<polyline points="25.2,445.5 35.43,424.74 50.77,403.99 58.45,383.23 63.56,362.48 67.4,341.72 69.96,320.97 73.28,300.21 75.07,279.46 75.07,258.7" fill="none" stroke="#c6c6c6" stroke-width="0.8"/>
<polyline points="25.2,445.5 37.99,424.74 58.45,403.99 68.68,383.23 73.15,362.48 74.43,341.72 77.63,320.97 81.47,300.21 82.23,279.46 85.3,258.7" fill="none" stroke="#c6c6c6" stroke-width="0.8"/>
<polyline points="25.2,445.5 34.15,424.74 48.22,403.99 55.89,383.23 61,362.48 64.84,341.72 67.4,320.97 71.23,300.21 73.79,279.46 73.79,258.7" fill="none" stroke="#c6c6c6" stroke-width="0.8"/>
<polyline points="25.2,445.5 36.71,424.74 53.33,403.99 63.56,383.23 68.68,362.48 71.23,341.72 73.79,320.97 76.35,300.21 80.19,279.46 82.74,258.7" fill="none" stroke="#c6c6c6" stroke-width="0.8"/>
<polyline points="25.2,445.5 30.31,424.74 38.5,403.99 41.82,383.23 44.38,362.48 45.02,341.72 46.04,320.97 48.22,300.21 49.11,279.46 50.26,258.7" fill="none" stroke="#c6c6c6" stroke-width="0.8"/>
<polyline points="25.2,445.5 32.87,424.74 44.38,403.99 50.77,383.23 53.33,362.48 54.61,341.72 57.17,320.97 61,300.21 62.28,279.46 63.18,258.7" fill="none" stroke="#c6c6c6" stroke-width="0.8"/>
<polyline points="25.2,445.5 35.43,424.74 49.5,403.99 57.17,383.23 62.28,362.48 67.4,341.72 69.96,320.97 72.51,300.21 75.07,279.46 75.07,258.7" fill="none" stroke="#c6c6c6" stroke-width="0.8"/>
<polyline points="25.2,445.5 34.15,424.74 46.94,403.99 53.33,383.23 57.17,362.48 58.45,341.72 62.28,320.97 64.84,300.21 69.96,279.46 72.51,258.7" fill="none" stroke="#c6c6c6" stroke-width="0.8"/>
<polyline points="25.2,445.5 36.71,424.74 50.77,403.99 58.45,383.23 64.84,362.48 68.68,341.72 71.23,320.97 73.79,300.21 75.07,279.46 76.35,258.7" fill="none" stroke="#c6c6c6" stroke-width="0.8"/>
<polyline points="25.2,445.5 35.43,424.74 48.22,403.99 54.61,383.23 58.45,362.48 62.28,341.72 64.84,320.97 67.4,300.21 71.23,279.46 72.51,258.7" fill="none" stroke="#c6c6c6" stroke-width="0.8"/>
<polyline points="25.2,445.5 35.43,424.74 49.5,403.99 57.17,383.23 62.28,362.48 63.56,341.72 64.84,320.97 71.23,300.21 72.51,279.46 73.15,258.7" fill="none" stroke="#c6c6c6" stroke-width="0.8"/>
<polyline points="25.2,445.5 34.15,424.74 46.94,403.99 53.33,383.23 57.17,362.48 57.17,341.72 59.73,320.97 63.56,300.21 62.28,279.46 63.56,258.7" fill="none" stroke="#c6c6c6" stroke-width="0.8"/>
<rect x="23.5" y="443.8" width="3.4" height="3.4" fill="#d8d8d8" stroke="#bdbdbd" stroke-width="0.8"/>
<rect x="33.73" y="423.04" width="3.4" height="3.4" fill="#d8d8d8" stroke="#bdbdbd" stroke-width="0.8"/>
<rect x="49.07" y="402.29" width="3.4" height="3.4" fill="#d8d8d8" stroke="#bdbdbd" stroke-width="0.8"/>
<rect x="56.75" y="381.53" width="3.4" height="3.4" fill="#d8d8d8" stroke="#bdbdbd" stroke-width="0.8"/>
<rect x="61.86" y="360.78" width="3.4" height="3.4" fill="#d8d8d8" stroke="#bdbdbd" stroke-width="0.8"/>
<rect x="65.7" y="340.02" width="3.4" height="3.4" fill="#d8d8d8" stroke="#bdbdbd" stroke-width="0.8"/>
<rect x="68.26" y="319.27" width="3.4" height="3.4" fill="#d8d8d8" stroke="#bdbdbd" stroke-width="0.8"/>
<rect x="71.58" y="298.51" width="3.4" height="3.4" fill="#d8d8d8" stroke="#bdbdbd" stroke-width="0.8"/>
<rect x="73.37" y="277.76" width="3.4" height="3.4" fill="#d8d8d8" stroke="#bdbdbd" stroke-width="0.8"/>
<rect x="73.37" y="257" width="3.4" height="3.4" fill="#d8d8d8" stroke="#bdbdbd" stroke-width="0.8"/>
<circle cx="25.2" cy="445.5" r="2" fill="none" stroke="#bdbdbd" stroke-width="0.8"/>
<circle cx="37.99" cy="424.74" r="2" fill="none" stroke="#bdbdbd" stroke-width="0.8"/>
<circle cx="58.45" cy="403.99" r="2" fill="none" stroke="#bdbdbd" stroke-width="0.8"/>
<circle cx="68.68" cy="383.23" r="2" fill="none" stroke="#bdbdbd" stroke-width="0.8"/>
<circle cx="73.15" cy="362.48" r="2" fill="none" stroke="#bdbdbd" stroke-width="0.8"/>
<circle cx="74.43" cy="341.72" r="2" fill="none" stroke="#bdbdbd" stroke-width="0.8"/>
<circle cx="77.63" cy="320.97" r="2" fill="none" stroke="#bdbdbd" stroke-width="0.8"/>
<circle cx="81.47" cy="300.21" r="2" fill="none" stroke="#bdbdbd" stroke-width="0.8"/>
<circle cx="82.23" cy="279.46" r="2" fill="none" stroke="#bdbdbd" stroke-width="0.8"/>
<circle cx="85.3" cy="258.7" r="2" fill="none" stroke="#bdbdbd" stroke-width="0.8"/>
<path d="M25.2,443.3L27.3,447L23.1,447Z" fill="none" stroke="#bdbdbd" stroke-width="0.8"/>
<path d="M34.15,422.54L36.25,426.24L32.05,426.24Z" fill="none" stroke="#bdbdbd" stroke-width="0.8"/>
<path d="M48.22,401.79L50.32,405.49L46.12,405.49Z" fill="none" stroke="#bdbdbd" stroke-width="0.8"/>
<path d="M55.89,381.03L57.99,384.73L53.79,384.73Z" fill="none" stroke="#bdbdbd" stroke-width="0.8"/>
<path d="M61,360.28L63.1,363.98L58.9,363.98Z" fill="none" stroke="#bdbdbd" stroke-width="0.8"/>
<path d="M64.84,339.52L66.94,343.22L62.74,343.22Z" fill="none" stroke="#bdbdbd" stroke-width="0.8"/>
<path d="M67.4,318.77L69.5,322.47L65.3,322.47Z" fill="none" stroke="#bdbdbd" stroke-width="0.8"/>
<path d="M71.23,298.01L73.33,301.71L69.13,301.71Z" fill="none" stroke="#bdbdbd" stroke-width="0.8"/>
<path d="M73.79,277.26L75.89,280.96L71.69,280.96Z" fill="none" stroke="#bdbdbd" stroke-width="0.8"/>
<path d="M73.79,256.5L75.89,260.2L71.69,260.2Z" fill="none" stroke="#bdbdbd" stroke-width="0.8"/>
<path d="M25.2,447.7L27.3,444L23.1,444Z" fill="none" stroke="#bdbdbd" stroke-width="0.8"/>
<path d="M36.71,426.94L38.81,423.24L34.61,423.24Z" fill="none" stroke="#bdbdbd" stroke-width="0.8"/>
<path d="M53.33,406.19L55.43,402.49L51.23,402.49Z" fill="none" stroke="#bdbdbd" stroke-width="0.8"/>
<path d="M63.56,385.43L65.66,381.73L61.46,381.73Z" fill="none" stroke="#bdbdbd" stroke-width="0.8"/>
<path d="M68.68,364.68L70.78,360.98L66.58,360.98Z" fill="none" stroke="#bdbdbd" stroke-width="0.8"/>
<path d="M71.23,343.92L73.33,340.22L69.13,340.22Z" fill="none" stroke="#bdbdbd" stroke-width="0.8"/>
<path d="M73.79,323.17L75.89,319.47L71.69,319.47Z" fill="none" stroke="#bdbdbd" stroke-width="0.8"/>
<path d="M76.35,302.41L78.45,298.71L74.25,298.71Z" fill="none" stroke="#bdbdbd" stroke-width="0.8"/>
<path d="M80.19,281.66L82.29,277.96L78.09,277.96Z" fill="none" stroke="#bdbdbd" stroke-width="0.8"/>
<path d="M82.74,260.9L84.84,257.2L80.64,257.2Z" fill="none" stroke="#bdbdbd" stroke-width="0.8"/>
<path d="M25.2,443.2L27.5,445.5L25.2,447.8L22.9,445.5Z" fill="none" stroke="#bdbdbd" stroke-width="0.8"/>
<path d="M30.31,422.44L32.61,424.74L30.31,427.04L28.01,424.74Z" fill="none" stroke="#bdbdbd" stroke-width="0.8"/>
<path d="M38.5,401.69L40.8,403.99L38.5,406.29L36.2,403.99Z" fill="none" stroke="#bdbdbd" stroke-width="0.8"/>
<path d="M41.82,380.93L44.12,383.23L41.82,385.53L39.52,383.23Z" fill="none" stroke="#bdbdbd" stroke-width="0.8"/>
<path d="M44.38,360.18L46.68,362.48L44.38,364.78L42.08,362.48Z" fill="none" stroke="#bdbdbd" stroke-width="0.8"/>
<path d="M45.02,339.42L47.32,341.72L45.02,344.02L42.72,341.72Z" fill="none" stroke="#bdbdbd" stroke-width="0.8"/>
<path d="M46.04,318.67L48.34,320.97L46.04,323.27L43.74,320.97Z" fill="none" stroke="#bdbdbd" stroke-width="0.8"/>
<path d="M48.22,297.91L50.52,300.21L48.22,302.51L45.92,300.21Z" fill="none" stroke="#bdbdbd" stroke-width="0.8"/>
<path d="M49.11,277.16L51.41,279.46L49.11,281.76L46.81,279.46Z" fill="none" stroke="#bdbdbd" stroke-width="0.8"/>
<path d="M50.26,256.4L52.56,258.7L50.26,261L47.96,258.7Z" fill="none" stroke="#bdbdbd" stroke-width="0.8"/>
<path d="M23,445.5L26.7,443.4L26.7,447.6Z" fill="none" stroke="#bdbdbd" stroke-width="0.8"/>
<path d="M30.67,424.74L34.37,422.64L34.37,426.84Z" fill="none" stroke="#bdbdbd" stroke-width="0.8"/>
<path d="M42.18,403.99L45.88,401.89L45.88,406.09Z" fill="none" stroke="#bdbdbd" stroke-width="0.8"/>
<path d="M48.57,383.23L52.27,381.13L52.27,385.33Z" fill="none" stroke="#bdbdbd" stroke-width="0.8"/>
<path d="M51.13,362.48L54.83,360.38L54.83,364.58Z" fill="none" stroke="#bdbdbd" stroke-width="0.8"/>
<path d="M52.41,341.72L56.11,339.62L56.11,343.82Z" fill="none" stroke="#bdbdbd" stroke-width="0.8"/>
<path d="M54.97,320.97L58.67,318.87L58.67,323.07Z" fill="none" stroke="#bdbdbd" stroke-width="0.8"/>
<path d="M58.8,300.21L62.5,298.11L62.5,302.31Z" fill="none" stroke="#bdbdbd" stroke-width="0.8"/>
<path d="M60.08,279.46L63.78,277.36L63.78,281.56Z" fill="none" stroke="#bdbdbd" stroke-width="0.8"/>
<path d="M60.98,258.7L64.68,256.6L64.68,260.8Z" fill="none" stroke="#bdbdbd" stroke-width="0.8"/>
<path d="M27.4,445.5L23.7,443.4L23.7,447.6Z" fill="none" stroke="#bdbdbd" stroke-width="0.8"/>
<path d="M37.63,424.74L33.93,422.64L33.93,426.84Z" fill="none" stroke="#bdbdbd" stroke-width="0.8"/>
<path d="M51.7,403.99L48,401.89L48,406.09Z" fill="none" stroke="#bdbdbd" stroke-width="0.8"/>
<path d="M59.37,383.23L55.67,381.13L55.67,385.33Z" fill="none" stroke="#bdbdbd" stroke-width="0.8"/>
<path d="M64.48,362.48L60.78,360.38L60.78,364.58Z" fill="none" stroke="#bdbdbd" stroke-width="0.8"/>
<path d="M69.6,341.72L65.9,339.62L65.9,343.82Z" fill="none" stroke="#bdbdbd" stroke-width="0.8"/>
<path d="M72.16,320.97L68.46,318.87L68.46,323.07Z" fill="none" stroke="#bdbdbd" stroke-width="0.8"/>
<path d="M74.71,300.21L71.01,298.11L71.01,302.31Z" fill="none" stroke="#bdbdbd" stroke-width="0.8"/>
<path d="M77.27,279.46L73.57,277.36L73.57,281.56Z" fill="none" stroke="#bdbdbd" stroke-width="0.8"/>
<path d="M77.27,258.7L73.57,256.6L73.57,260.8Z" fill="none" stroke="#bdbdbd" stroke-width="0.8"/>
<polygon points="27.3,445.5 26.25,447.32 24.15,447.32 23.1,445.5 24.15,443.68 26.25,443.68" fill="none" stroke="#bdbdbd" stroke-width="0.8"/>
<polygon points="36.25,424.74 35.2,426.56 33.1,426.56 32.05,424.74 33.1,422.93 35.2,422.93" fill="none" stroke="#bdbdbd" stroke-width="0.8"/>
<polygon points="49.04,403.99 47.99,405.81 45.89,405.81 44.84,403.99 45.89,402.17 47.99,402.17" fill="none" stroke="#bdbdbd" stroke-width="0.8"/>
<polygon points="55.43,383.23 54.38,385.05 52.28,385.05 51.23,383.23 52.28,381.41 54.38,381.41" fill="none" stroke="#bdbdbd" stroke-width="0.8"/>
<polygon points="59.27,362.48 58.22,364.3 56.12,364.3 55.07,362.48 56.12,360.66 58.22,360.66" fill="none" stroke="#bdbdbd" stroke-width="0.8"/>
<polygon points="60.55,341.72 59.5,343.54 57.4,343.54 56.35,341.72 57.4,339.9 59.5,339.9" fill="none" stroke="#bdbdbd" stroke-width="0.8"/>
<polygon points="64.38,320.97 63.33,322.79 61.23,322.79 60.18,320.97 61.23,319.15 63.33,319.15" fill="none" stroke="#bdbdbd" stroke-width="0.8"/>
<polygon points="66.94,300.21 65.89,302.03 63.79,302.03 62.74,300.21 63.79,298.39 65.89,298.39" fill="none" stroke="#bdbdbd" stroke-width="0.8"/>
<polygon points="72.06,279.46 71.01,281.27 68.91,281.27 67.86,279.46 68.91,277.64 71.01,277.64" fill="none" stroke="#bdbdbd" stroke-width="0.8"/>
<polygon points="74.61,258.7 73.56,260.52 71.46,260.52 70.41,258.7 71.46,256.88 73.56,256.88" fill="none" stroke="#bdbdbd" stroke-width="0.8"/>
<polygon points="25.2,443.1 25.79,444.69 27.48,444.76 26.15,445.81 26.61,447.44 25.2,446.5 23.79,447.44 24.25,445.81 22.92,444.76 24.61,444.69" fill="#d0d0d0" stroke="#bdbdbd" stroke-width="0.8"/>
<polygon points="36.71,422.34 37.3,423.94 38.99,424 37.66,425.05 38.12,426.69 36.71,425.74 35.3,426.69 35.76,425.05 34.43,424 36.12,423.94" fill="#d0d0d0" stroke="#bdbdbd" stroke-width="0.8"/>
<polygon points="50.77,401.59 51.36,403.18 53.06,403.25 51.73,404.3 52.19,405.93 50.77,404.99 49.36,405.93 49.82,404.3 48.49,403.25 50.19,403.18" fill="#d0d0d0" stroke="#bdbdbd" stroke-width="0.8"/>
<polygon points="58.45,380.83 59.04,382.42 60.73,382.49 59.4,383.54 59.86,385.17 58.45,384.23 57.04,385.17 57.5,383.54 56.16,382.49 57.86,382.42" fill="#d0d0d0" stroke="#bdbdbd" stroke-width="0.8"/>
<polygon points="64.84,360.08 65.43,361.67 67.12,361.74 65.79,362.79 66.25,364.42 64.84,363.48 63.43,364.42 63.89,362.79 62.56,361.74 64.25,361.67" fill="#d0d0d0" stroke="#bdbdbd" stroke-width="0.8"/>
<polygon points="68.68,339.32 69.27,340.91 70.96,340.98 69.63,342.03 70.09,343.66 68.68,342.72 67.27,343.66 67.73,342.03 66.39,340.98 68.09,340.91" fill="#d0d0d0" stroke="#bdbdbd" stroke-width="0.8"/>
<polygon points="71.23,318.57 71.82,320.16 73.52,320.23 72.19,321.28 72.65,322.91 71.23,321.97 69.82,322.91 70.28,321.28 68.95,320.23 70.65,320.16" fill="#d0d0d0" stroke="#bdbdbd" stroke-width="0.8"/>
<polygon points="73.79,297.81 74.38,299.4 76.08,299.47 74.74,300.52 75.2,302.15 73.79,301.21 72.38,302.15 72.84,300.52 71.51,299.47 73.2,299.4" fill="#d0d0d0" stroke="#bdbdbd" stroke-width="0.8"/>
<polygon points="75.07,277.06 75.66,278.65 77.35,278.71 76.02,279.76 76.48,281.4 75.07,280.46 73.66,281.4 74.12,279.76 72.79,278.71 74.48,278.65" fill="#d0d0d0" stroke="#bdbdbd" stroke-width="0.8"/>
<polygon points="76.35,256.3 76.94,257.89 78.63,257.96 77.3,259.01 77.76,260.64 76.35,259.7 74.94,260.64 75.4,259.01 74.07,257.96 75.76,257.89" fill="#d0d0d0" stroke="#bdbdbd" stroke-width="0.8"/>
<polygon points="25.2,443.3 27.29,444.82 26.49,447.28 23.91,447.28 23.11,444.82" fill="none" stroke="#bdbdbd" stroke-width="0.8"/>
<polygon points="35.43,422.54 37.52,424.06 36.72,426.52 34.14,426.52 33.34,424.06" fill="none" stroke="#bdbdbd" stroke-width="0.8"/>
<polygon points="48.22,401.79 50.31,403.31 49.51,405.77 46.92,405.77 46.13,403.31" fill="none" stroke="#bdbdbd" stroke-width="0.8"/>
<polygon points="54.61,381.03 56.7,382.55 55.9,385.01 53.32,385.01 52.52,382.55" fill="none" stroke="#bdbdbd" stroke-width="0.8"/>
<polygon points="58.45,360.28 60.54,361.8 59.74,364.26 57.15,364.26 56.36,361.8" fill="none" stroke="#bdbdbd" stroke-width="0.8"/>
<polygon points="62.28,339.52 64.38,341.04 63.58,343.5 60.99,343.5 60.19,341.04" fill="none" stroke="#bdbdbd" stroke-width="0.8"/>
<polygon points="64.84,318.77 66.93,320.29 66.13,322.75 63.55,322.75 62.75,320.29" fill="none" stroke="#bdbdbd" stroke-width="0.8"/>
<polygon points="67.4,298.01 69.49,299.53 68.69,301.99 66.11,301.99 65.31,299.53" fill="none" stroke="#bdbdbd" stroke-width="0.8"/>
<polygon points="71.23,277.26 73.33,278.78 72.53,281.24 69.94,281.24 69.14,278.78" fill="none" stroke="#bdbdbd" stroke-width="0.8"/>
<polygon points="72.51,256.5 74.61,258.02 73.81,260.48 71.22,260.48 70.42,258.02" fill="none" stroke="#bdbdbd" stroke-width="0.8"/>
<rect x="23.4" y="443.7" width="3.6" height="3.6" fill="#dcdcdc" stroke="#cfcfcf" stroke-width="0.8"/>
<rect x="33.63" y="422.94" width="3.6" height="3.6" fill="#dcdcdc" stroke="#cfcfcf" stroke-width="0.8"/>
<rect x="47.7" y="402.19" width="3.6" height="3.6" fill="#dcdcdc" stroke="#cfcfcf" stroke-width="0.8"/>
<rect x="55.37" y="381.43" width="3.6" height="3.6" fill="#dcdcdc" stroke="#cfcfcf" stroke-width="0.8"/>
<rect x="60.48" y="360.68" width="3.6" height="3.6" fill="#dcdcdc" stroke="#cfcfcf" stroke-width="0.8"/>
<rect x="61.76" y="339.92" width="3.6" height="3.6" fill="#dcdcdc" stroke="#cfcfcf" stroke-width="0.8"/>
<rect x="63.04" y="319.17" width="3.6" height="3.6" fill="#dcdcdc" stroke="#cfcfcf" stroke-width="0.8"/>
<rect x="69.43" y="298.41" width="3.6" height="3.6" fill="#dcdcdc" stroke="#cfcfcf" stroke-width="0.8"/>
<rect x="70.71" y="277.66" width="3.6" height="3.6" fill="#dcdcdc" stroke="#cfcfcf" stroke-width="0.8"/>
<rect x="71.35" y="256.9" width="3.6" height="3.6" fill="#dcdcdc" stroke="#cfcfcf" stroke-width="0.8"/>
<circle cx="25.2" cy="445.5" r="2.1" fill="#dedede" stroke="#cccccc" stroke-width="0.8"/><circle cx="25.2" cy="445.5" r="0.8" fill="#c8c8c8"/>
<circle cx="34.15" cy="424.74" r="2.1" fill="#dedede" stroke="#cccccc" stroke-width="0.8"/><circle cx="34.15" cy="424.74" r="0.8" fill="#c8c8c8"/>
<circle cx="46.94" cy="403.99" r="2.1" fill="#dedede" stroke="#cccccc" stroke-width="0.8"/><circle cx="46.94" cy="403.99" r="0.8" fill="#c8c8c8"/>
<circle cx="53.33" cy="383.23" r="2.1" fill="#dedede" stroke="#cccccc" stroke-width="0.8"/><circle cx="53.33" cy="383.23" r="0.8" fill="#c8c8c8"/>
<circle cx="57.17" cy="362.48" r="2.1" fill="#dedede" stroke="#cccccc" stroke-width="0.8"/><circle cx="57.17" cy="362.48" r="0.8" fill="#c8c8c8"/>
<circle cx="57.17" cy="341.72" r="2.1" fill="#dedede" stroke="#cccccc" stroke-width="0.8"/><circle cx="57.17" cy="341.72" r="0.8" fill="#c8c8c8"/>
<circle cx="59.73" cy="320.97" r="2.1" fill="#dedede" stroke="#cccccc" stroke-width="0.8"/><circle cx="59.73" cy="320.97" r="0.8" fill="#c8c8c8"/>
<circle cx="63.56" cy="300.21" r="2.1" fill="#dedede" stroke="#cccccc" stroke-width="0.8"/><circle cx="63.56" cy="300.21" r="0.8" fill="#c8c8c8"/>
<circle cx="62.28" cy="279.46" r="2.1" fill="#dedede" stroke="#cccccc" stroke-width="0.8"/><circle cx="62.28" cy="279.46" r="0.8" fill="#c8c8c8"/>
<circle cx="63.56" cy="258.7" r="2.1" fill="#dedede" stroke="#cccccc" stroke-width="0.8"/><circle cx="63.56" cy="258.7" r="0.8" fill="#c8c8c8"/>
<polyline points="25.2,445.5 35.05,424.74 48.86,403.99 56.27,383.23 60.49,362.48 63.95,341.72 66.89,320.97 69.96,300.21 72.51,279.46 73.28,258.7" fill="none" stroke="#0c0cf8" stroke-width="1.75" stroke-linejoin="miter"/>
</g>
<path d="M76.35,258.7V445.5" stroke="#f51010" stroke-width="1.65" stroke-dasharray="8.5 5.9"/>
<rect x="83.2" y="311.5" width="40.3" height="129" fill="#fff" stroke="#c8c8c8" stroke-width="0.8"/>
<path d="M84.7,316.9H102.2" stroke="#c6c6c6" stroke-width="1.6"/>
<rect x="91.45" y="314.9" width="4" height="4" fill="#d8d8d8" stroke="#bdbdbd" stroke-width="0.8"/>
<text x="104.2" y="319.7" font-size="8" text-anchor="start">G1</text>
<path d="M84.7,326.83H102.2" stroke="#c6c6c6" stroke-width="1.0"/>
<circle cx="93.45" cy="326.83" r="2.35" fill="none" stroke="#bdbdbd" stroke-width="0.8"/>
<text x="104.2" y="329.63" font-size="8" text-anchor="start">G2</text>
<path d="M84.7,336.76H102.2" stroke="#c6c6c6" stroke-width="1.0"/>
<path d="M93.45,334.18L95.92,338.52L90.98,338.52Z" fill="none" stroke="#bdbdbd" stroke-width="0.8"/>
<text x="104.2" y="339.56" font-size="8" text-anchor="start">G3</text>
<path d="M84.7,346.69H102.2" stroke="#c6c6c6" stroke-width="1.0"/>
<path d="M93.45,349.27L95.92,344.93L90.98,344.93Z" fill="none" stroke="#bdbdbd" stroke-width="0.8"/>
<text x="104.2" y="349.49" font-size="8" text-anchor="start">G4</text>
<path d="M84.7,356.62H102.2" stroke="#c6c6c6" stroke-width="1.0"/>
<path d="M93.45,353.92L96.15,356.62L93.45,359.32L90.75,356.62Z" fill="none" stroke="#bdbdbd" stroke-width="0.8"/>
<text x="104.2" y="359.42" font-size="8" text-anchor="start">G5</text>
<path d="M84.7,366.55H102.2" stroke="#c6c6c6" stroke-width="1.0"/>
<path d="M90.87,366.55L95.21,364.08L95.21,369.02Z" fill="none" stroke="#bdbdbd" stroke-width="0.8"/>
<text x="104.2" y="369.35" font-size="8" text-anchor="start">G6</text>
<path d="M84.7,376.48H102.2" stroke="#c6c6c6" stroke-width="1.0"/>
<path d="M96.03,376.48L91.69,374.01L91.69,378.95Z" fill="none" stroke="#bdbdbd" stroke-width="0.8"/>
<text x="104.2" y="379.28" font-size="8" text-anchor="start">G7</text>
<path d="M84.7,386.41H102.2" stroke="#c6c6c6" stroke-width="1.0"/>
<polygon points="95.92,386.41 94.68,388.55 92.22,388.55 90.98,386.41 92.22,384.27 94.68,384.27" fill="none" stroke="#bdbdbd" stroke-width="0.8"/>
<text x="104.2" y="389.21" font-size="8" text-anchor="start">G8</text>
<path d="M84.7,396.34H102.2" stroke="#c6c6c6" stroke-width="1.0"/>
<polygon points="93.45,393.52 94.14,395.39 96.13,395.47 94.57,396.7 95.11,398.62 93.45,397.51 91.79,398.62 92.33,396.7 90.77,395.47 92.76,395.39" fill="#d0d0d0" stroke="#bdbdbd" stroke-width="0.8"/>
<text x="104.2" y="399.14" font-size="8" text-anchor="start">G9</text>
<path d="M84.7,406.27H102.2" stroke="#c6c6c6" stroke-width="1.0"/>
<polygon points="93.45,403.69 95.91,405.47 94.97,408.36 91.93,408.36 90.99,405.47" fill="none" stroke="#bdbdbd" stroke-width="0.8"/>
<text x="104.2" y="409.07" font-size="8" text-anchor="start">G10</text>
<path d="M84.7,416.2H102.2" stroke="#c6c6c6" stroke-width="1.0"/>
<rect x="91.34" y="414.08" width="4.23" height="4.23" fill="#dcdcdc" stroke="#cfcfcf" stroke-width="0.8"/>
<text x="104.2" y="419" font-size="8" text-anchor="start">G11</text>
<path d="M84.7,426.13H102.2" stroke="#c6c6c6" stroke-width="1.0"/>
<circle cx="93.45" cy="426.13" r="2.47" fill="#dedede" stroke="#cccccc" stroke-width="0.8"/><circle cx="93.45" cy="426.13" r="0.8" fill="#c8c8c8"/>
<text x="104.2" y="428.93" font-size="8" text-anchor="start">G12</text>
<path d="M84.7,436.06H102.2" stroke="#0c0cf8" stroke-width="1.75"/>
<text x="104.2" y="438.86" font-size="8" text-anchor="start">Mean</text>
<path d="M25.2,445.5v3.4M50.77,445.5v3.4M76.35,445.5v3.4M101.92,445.5v3.4M127.5,445.5v3.4M37.99,445.5v2M63.56,445.5v2M89.14,445.5v2M114.71,445.5v2M25.2,445.5h-3.4M25.2,424.74h-3.4M25.2,403.99h-3.4M25.2,383.23h-3.4M25.2,362.48h-3.4M25.2,341.72h-3.4M25.2,320.97h-3.4M25.2,300.21h-3.4M25.2,279.46h-3.4M25.2,258.7h-3.4" stroke="#1a1a1a" stroke-width="1"/>
<text x="25.2" y="456.9" font-size="7.6" text-anchor="middle">0.0</text>
<text x="50.77" y="456.9" font-size="7.6" text-anchor="middle">0.2</text>
<text x="76.35" y="456.9" font-size="7.6" text-anchor="middle">0.4</text>
<text x="101.92" y="456.9" font-size="7.6" text-anchor="middle">0.6</text>
<text x="127.5" y="456.9" font-size="7.6" text-anchor="middle">0.8</text>
<text x="19.7" y="448.08" font-size="7.6" text-anchor="end">0</text>
<text x="19.7" y="427.33" font-size="7.6" text-anchor="end">1</text>
<text x="19.7" y="406.57" font-size="7.6" text-anchor="end">2</text>
<text x="19.7" y="385.82" font-size="7.6" text-anchor="end">3</text>
<text x="19.7" y="365.06" font-size="7.6" text-anchor="end">4</text>
<text x="19.7" y="344.31" font-size="7.6" text-anchor="end">5</text>
<text x="19.7" y="323.55" font-size="7.6" text-anchor="end">6</text>
<text x="19.7" y="302.8" font-size="7.6" text-anchor="end">7</text>
<text x="19.7" y="282.04" font-size="7.6" text-anchor="end">8</text>
<text x="19.7" y="261.28" font-size="7.6" text-anchor="end">9</text>
<text x="35" y="439.1" font-size="9.3" text-anchor="start" textLength="39.9" lengthAdjust="spacingAndGlyphs">target 0.4%</text>
<text x="76.35" y="466.9" font-size="8.8" text-anchor="middle" textLength="35" lengthAdjust="spacingAndGlyphs">ISDR (%)</text>
<text transform="translate(12.2,352.1) rotate(-90)" font-size="9.6" text-anchor="middle" textLength="37.6" lengthAdjust="spacingAndGlyphs">Story level</text>
<text x="7.3" y="489" font-size="14.8" style="stroke-width:0.12px" textLength="125.4" lengthAdjust="spacingAndGlyphs">(<tspan font-weight="bold">d</tspan>) Enhanced, SLE</text>
<path d="M249.96,260.6V443.6M269.62,260.6V443.6M289.28,260.6V443.6M308.94,260.6V443.6M240.13,260.6V443.6M259.79,260.6V443.6M279.45,260.6V443.6M299.11,260.6V443.6M318.77,260.6V443.6M230.3,433.43H328.6M230.3,423.27H328.6M230.3,413.1H328.6M230.3,402.93H328.6M230.3,392.77H328.6M230.3,382.6H328.6M230.3,372.43H328.6M230.3,362.27H328.6M230.3,352.1H328.6M230.3,341.93H328.6M230.3,331.77H328.6M230.3,321.6H328.6M230.3,311.43H328.6M230.3,301.27H328.6M230.3,291.1H328.6M230.3,280.93H328.6M230.3,270.77H328.6" stroke="#ececec" stroke-width="0.6" fill="none"/>
<rect x="230.3" y="260.6" width="98.3" height="183" fill="none" stroke="#151515" stroke-width="1.35"/>
<clipPath id="clipe"><rect x="226.3" y="256.6" width="102.3" height="191"/></clipPath>
<g clip-path="url(#clipe)">
<polyline points="230.3,443.6 244.06,423.27 261.76,402.93 267.65,382.6 273.55,362.27 277.48,341.93 278.66,321.6 286.53,301.27 294.39,280.93 295.57,260.6" fill="none" stroke="#c6c6c6" stroke-width="0.8"/>
<polyline points="230.3,443.6 246.03,423.27 266.47,402.93 273.16,382.6 280.24,362.27 284.56,341.93 285.74,321.6 293.61,301.27 299.5,280.93 302.65,260.6" fill="none" stroke="#c6c6c6" stroke-width="0.8"/>
<polyline points="230.3,443.6 242.1,423.27 257.82,402.93 263.72,382.6 267.65,362.27 271.59,341.93 273.55,321.6 277.48,301.27 281.42,280.93 285.35,260.6" fill="none" stroke="#c6c6c6" stroke-width="0.8"/>
<polyline points="230.3,443.6 245.24,423.27 263.72,402.93 269.62,382.6 275.52,362.27 278.66,341.93 279.45,321.6 283.38,301.27 284.56,280.93 286.53,260.6" fill="none" stroke="#c6c6c6" stroke-width="0.8"/>
<polyline points="230.3,443.6 237.77,423.27 247.99,402.93 252.32,382.6 253.89,362.27 255.86,341.93 257.82,321.6 259.79,301.27 261.76,280.93 261.76,260.6" fill="none" stroke="#c6c6c6" stroke-width="0.8"/>
<polyline points="230.3,443.6 242.1,423.27 253.89,402.93 259.4,382.6 262.94,362.27 263.72,341.93 266.87,321.6 266.87,301.27 269.62,280.93 271.78,260.6" fill="none" stroke="#c6c6c6" stroke-width="0.8"/>
<polyline points="230.3,443.6 244.06,423.27 259.79,402.93 265.69,382.6 269.62,362.27 273.55,341.93 275.52,321.6 279.45,301.27 281.42,280.93 283.38,260.6" fill="none" stroke="#c6c6c6" stroke-width="0.8"/>
<polyline points="230.3,443.6 242.1,423.27 255.86,402.93 261.76,382.6 265.69,362.27 268.83,341.93 270.8,321.6 274.73,301.27 278.66,280.93 280.63,260.6" fill="none" stroke="#c6c6c6" stroke-width="0.8"/>
<polyline points="230.3,443.6 244.46,423.27 261.76,402.93 267.65,382.6 271.59,362.27 276.7,341.93 277.48,321.6 281.42,301.27 283.38,280.93 283.38,260.6" fill="none" stroke="#c6c6c6" stroke-width="0.8"/>
<polyline points="230.3,443.6 242.1,423.27 257.82,402.93 261.76,382.6 265.69,362.27 269.62,341.93 271.59,321.6 275.52,301.27 279.45,280.93 281.42,260.6" fill="none" stroke="#c6c6c6" stroke-width="0.8"/>
<polyline points="230.3,443.6 243.28,423.27 258.61,402.93 263.72,382.6 267.65,362.27 271.59,341.93 273.55,321.6 277.48,301.27 279.45,280.93 281.42,260.6" fill="none" stroke="#c6c6c6" stroke-width="0.8"/>
<polyline points="230.3,443.6 242.1,423.27 255.86,402.93 261.76,382.6 264.9,362.27 267.65,341.93 269.62,321.6 273.55,301.27 277.88,280.93 281.02,260.6" fill="none" stroke="#c6c6c6" stroke-width="0.8"/>
<rect x="228.6" y="441.9" width="3.4" height="3.4" fill="#d8d8d8" stroke="#bdbdbd" stroke-width="0.8"/>
<rect x="242.36" y="421.57" width="3.4" height="3.4" fill="#d8d8d8" stroke="#bdbdbd" stroke-width="0.8"/>
<rect x="260.06" y="401.23" width="3.4" height="3.4" fill="#d8d8d8" stroke="#bdbdbd" stroke-width="0.8"/>
<rect x="265.95" y="380.9" width="3.4" height="3.4" fill="#d8d8d8" stroke="#bdbdbd" stroke-width="0.8"/>
<rect x="271.85" y="360.57" width="3.4" height="3.4" fill="#d8d8d8" stroke="#bdbdbd" stroke-width="0.8"/>
<rect x="275.78" y="340.23" width="3.4" height="3.4" fill="#d8d8d8" stroke="#bdbdbd" stroke-width="0.8"/>
<rect x="276.96" y="319.9" width="3.4" height="3.4" fill="#d8d8d8" stroke="#bdbdbd" stroke-width="0.8"/>
<rect x="284.83" y="299.57" width="3.4" height="3.4" fill="#d8d8d8" stroke="#bdbdbd" stroke-width="0.8"/>
<rect x="292.69" y="279.23" width="3.4" height="3.4" fill="#d8d8d8" stroke="#bdbdbd" stroke-width="0.8"/>
<rect x="293.87" y="258.9" width="3.4" height="3.4" fill="#d8d8d8" stroke="#bdbdbd" stroke-width="0.8"/>
<circle cx="230.3" cy="443.6" r="2" fill="none" stroke="#bdbdbd" stroke-width="0.8"/>
<circle cx="246.03" cy="423.27" r="2" fill="none" stroke="#bdbdbd" stroke-width="0.8"/>
<circle cx="266.47" cy="402.93" r="2" fill="none" stroke="#bdbdbd" stroke-width="0.8"/>
<circle cx="273.16" cy="382.6" r="2" fill="none" stroke="#bdbdbd" stroke-width="0.8"/>
<circle cx="280.24" cy="362.27" r="2" fill="none" stroke="#bdbdbd" stroke-width="0.8"/>
<circle cx="284.56" cy="341.93" r="2" fill="none" stroke="#bdbdbd" stroke-width="0.8"/>
<circle cx="285.74" cy="321.6" r="2" fill="none" stroke="#bdbdbd" stroke-width="0.8"/>
<circle cx="293.61" cy="301.27" r="2" fill="none" stroke="#bdbdbd" stroke-width="0.8"/>
<circle cx="299.5" cy="280.93" r="2" fill="none" stroke="#bdbdbd" stroke-width="0.8"/>
<circle cx="302.65" cy="260.6" r="2" fill="none" stroke="#bdbdbd" stroke-width="0.8"/>
<path d="M230.3,441.4L232.4,445.1L228.2,445.1Z" fill="none" stroke="#bdbdbd" stroke-width="0.8"/>
<path d="M242.1,421.07L244.2,424.77L240,424.77Z" fill="none" stroke="#bdbdbd" stroke-width="0.8"/>
<path d="M257.82,400.73L259.92,404.43L255.72,404.43Z" fill="none" stroke="#bdbdbd" stroke-width="0.8"/>
<path d="M263.72,380.4L265.82,384.1L261.62,384.1Z" fill="none" stroke="#bdbdbd" stroke-width="0.8"/>
<path d="M267.65,360.07L269.75,363.77L265.55,363.77Z" fill="none" stroke="#bdbdbd" stroke-width="0.8"/>
<path d="M271.59,339.73L273.69,343.43L269.49,343.43Z" fill="none" stroke="#bdbdbd" stroke-width="0.8"/>
<path d="M273.55,319.4L275.65,323.1L271.45,323.1Z" fill="none" stroke="#bdbdbd" stroke-width="0.8"/>
<path d="M277.48,299.07L279.58,302.77L275.38,302.77Z" fill="none" stroke="#bdbdbd" stroke-width="0.8"/>
<path d="M281.42,278.73L283.52,282.43L279.32,282.43Z" fill="none" stroke="#bdbdbd" stroke-width="0.8"/>
<path d="M285.35,258.4L287.45,262.1L283.25,262.1Z" fill="none" stroke="#bdbdbd" stroke-width="0.8"/>
<path d="M230.3,445.8L232.4,442.1L228.2,442.1Z" fill="none" stroke="#bdbdbd" stroke-width="0.8"/>
<path d="M245.24,425.47L247.34,421.77L243.14,421.77Z" fill="none" stroke="#bdbdbd" stroke-width="0.8"/>
<path d="M263.72,405.13L265.82,401.43L261.62,401.43Z" fill="none" stroke="#bdbdbd" stroke-width="0.8"/>
<path d="M269.62,384.8L271.72,381.1L267.52,381.1Z" fill="none" stroke="#bdbdbd" stroke-width="0.8"/>
<path d="M275.52,364.47L277.62,360.77L273.42,360.77Z" fill="none" stroke="#bdbdbd" stroke-width="0.8"/>
<path d="M278.66,344.13L280.76,340.43L276.56,340.43Z" fill="none" stroke="#bdbdbd" stroke-width="0.8"/>
<path d="M279.45,323.8L281.55,320.1L277.35,320.1Z" fill="none" stroke="#bdbdbd" stroke-width="0.8"/>
<path d="M283.38,303.47L285.48,299.77L281.28,299.77Z" fill="none" stroke="#bdbdbd" stroke-width="0.8"/>
<path d="M284.56,283.13L286.66,279.43L282.46,279.43Z" fill="none" stroke="#bdbdbd" stroke-width="0.8"/>
<path d="M286.53,262.8L288.63,259.1L284.43,259.1Z" fill="none" stroke="#bdbdbd" stroke-width="0.8"/>
<path d="M230.3,441.3L232.6,443.6L230.3,445.9L228,443.6Z" fill="none" stroke="#bdbdbd" stroke-width="0.8"/>
<path d="M237.77,420.97L240.07,423.27L237.77,425.57L235.47,423.27Z" fill="none" stroke="#bdbdbd" stroke-width="0.8"/>
<path d="M247.99,400.63L250.29,402.93L247.99,405.23L245.69,402.93Z" fill="none" stroke="#bdbdbd" stroke-width="0.8"/>
<path d="M252.32,380.3L254.62,382.6L252.32,384.9L250.02,382.6Z" fill="none" stroke="#bdbdbd" stroke-width="0.8"/>
<path d="M253.89,359.97L256.19,362.27L253.89,364.57L251.59,362.27Z" fill="none" stroke="#bdbdbd" stroke-width="0.8"/>
<path d="M255.86,339.63L258.16,341.93L255.86,344.23L253.56,341.93Z" fill="none" stroke="#bdbdbd" stroke-width="0.8"/>
<path d="M257.82,319.3L260.12,321.6L257.82,323.9L255.52,321.6Z" fill="none" stroke="#bdbdbd" stroke-width="0.8"/>
<path d="M259.79,298.97L262.09,301.27L259.79,303.57L257.49,301.27Z" fill="none" stroke="#bdbdbd" stroke-width="0.8"/>
<path d="M261.76,278.63L264.06,280.93L261.76,283.23L259.46,280.93Z" fill="none" stroke="#bdbdbd" stroke-width="0.8"/>
<path d="M261.76,258.3L264.06,260.6L261.76,262.9L259.46,260.6Z" fill="none" stroke="#bdbdbd" stroke-width="0.8"/>
<path d="M228.1,443.6L231.8,441.5L231.8,445.7Z" fill="none" stroke="#bdbdbd" stroke-width="0.8"/>
<path d="M239.9,423.27L243.6,421.17L243.6,425.37Z" fill="none" stroke="#bdbdbd" stroke-width="0.8"/>
<path d="M251.69,402.93L255.39,400.83L255.39,405.03Z" fill="none" stroke="#bdbdbd" stroke-width="0.8"/>
<path d="M257.2,382.6L260.9,380.5L260.9,384.7Z" fill="none" stroke="#bdbdbd" stroke-width="0.8"/>
<path d="M260.74,362.27L264.44,360.17L264.44,364.37Z" fill="none" stroke="#bdbdbd" stroke-width="0.8"/>
<path d="M261.52,341.93L265.22,339.83L265.22,344.03Z" fill="none" stroke="#bdbdbd" stroke-width="0.8"/>
<path d="M264.67,321.6L268.37,319.5L268.37,323.7Z" fill="none" stroke="#bdbdbd" stroke-width="0.8"/>
<path d="M264.67,301.27L268.37,299.17L268.37,303.37Z" fill="none" stroke="#bdbdbd" stroke-width="0.8"/>
<path d="M267.42,280.93L271.12,278.83L271.12,283.03Z" fill="none" stroke="#bdbdbd" stroke-width="0.8"/>
<path d="M269.58,260.6L273.28,258.5L273.28,262.7Z" fill="none" stroke="#bdbdbd" stroke-width="0.8"/>
<path d="M232.5,443.6L228.8,441.5L228.8,445.7Z" fill="none" stroke="#bdbdbd" stroke-width="0.8"/>
<path d="M246.26,423.27L242.56,421.17L242.56,425.37Z" fill="none" stroke="#bdbdbd" stroke-width="0.8"/>
<path d="M261.99,402.93L258.29,400.83L258.29,405.03Z" fill="none" stroke="#bdbdbd" stroke-width="0.8"/>
<path d="M267.89,382.6L264.19,380.5L264.19,384.7Z" fill="none" stroke="#bdbdbd" stroke-width="0.8"/>
<path d="M271.82,362.27L268.12,360.17L268.12,364.37Z" fill="none" stroke="#bdbdbd" stroke-width="0.8"/>
<path d="M275.75,341.93L272.05,339.83L272.05,344.03Z" fill="none" stroke="#bdbdbd" stroke-width="0.8"/>
<path d="M277.72,321.6L274.02,319.5L274.02,323.7Z" fill="none" stroke="#bdbdbd" stroke-width="0.8"/>
<path d="M281.65,301.27L277.95,299.17L277.95,303.37Z" fill="none" stroke="#bdbdbd" stroke-width="0.8"/>
<path d="M283.62,280.93L279.92,278.83L279.92,283.03Z" fill="none" stroke="#bdbdbd" stroke-width="0.8"/>
<path d="M285.58,260.6L281.88,258.5L281.88,262.7Z" fill="none" stroke="#bdbdbd" stroke-width="0.8"/>
<polygon points="232.4,443.6 231.35,445.42 229.25,445.42 228.2,443.6 229.25,441.78 231.35,441.78" fill="none" stroke="#bdbdbd" stroke-width="0.8"/>
<polygon points="244.2,423.27 243.15,425.09 241.05,425.09 240,423.27 241.05,421.45 243.15,421.45" fill="none" stroke="#bdbdbd" stroke-width="0.8"/>
<polygon points="257.96,402.93 256.91,404.75 254.81,404.75 253.76,402.93 254.81,401.11 256.91,401.11" fill="none" stroke="#bdbdbd" stroke-width="0.8"/>
<polygon points="263.86,382.6 262.81,384.42 260.71,384.42 259.66,382.6 260.71,380.78 262.81,380.78" fill="none" stroke="#bdbdbd" stroke-width="0.8"/>
<polygon points="267.79,362.27 266.74,364.09 264.64,364.09 263.59,362.27 264.64,360.45 266.74,360.45" fill="none" stroke="#bdbdbd" stroke-width="0.8"/>
<polygon points="270.93,341.93 269.88,343.75 267.78,343.75 266.73,341.93 267.78,340.11 269.88,340.11" fill="none" stroke="#bdbdbd" stroke-width="0.8"/>
<polygon points="272.9,321.6 271.85,323.42 269.75,323.42 268.7,321.6 269.75,319.78 271.85,319.78" fill="none" stroke="#bdbdbd" stroke-width="0.8"/>
<polygon points="276.83,301.27 275.78,303.09 273.68,303.09 272.63,301.27 273.68,299.45 275.78,299.45" fill="none" stroke="#bdbdbd" stroke-width="0.8"/>
<polygon points="280.76,280.93 279.71,282.75 277.61,282.75 276.56,280.93 277.61,279.11 279.71,279.11" fill="none" stroke="#bdbdbd" stroke-width="0.8"/>
<polygon points="282.73,260.6 281.68,262.42 279.58,262.42 278.53,260.6 279.58,258.78 281.68,258.78" fill="none" stroke="#bdbdbd" stroke-width="0.8"/>
<polygon points="230.3,441.2 230.89,442.79 232.58,442.86 231.25,443.91 231.71,445.54 230.3,444.6 228.89,445.54 229.35,443.91 228.02,442.86 229.71,442.79" fill="#d0d0d0" stroke="#bdbdbd" stroke-width="0.8"/>
<polygon points="244.46,420.87 245.04,422.46 246.74,422.53 245.41,423.58 245.87,425.21 244.46,424.27 243.04,425.21 243.5,423.58 242.17,422.53 243.87,422.46" fill="#d0d0d0" stroke="#bdbdbd" stroke-width="0.8"/>
<polygon points="261.76,400.53 262.34,402.12 264.04,402.19 262.71,403.24 263.17,404.87 261.76,403.93 260.35,404.87 260.8,403.24 259.47,402.19 261.17,402.12" fill="#d0d0d0" stroke="#bdbdbd" stroke-width="0.8"/>
<polygon points="267.65,380.2 268.24,381.79 269.94,381.86 268.61,382.91 269.06,384.54 267.65,383.6 266.24,384.54 266.7,382.91 265.37,381.86 267.07,381.79" fill="#d0d0d0" stroke="#bdbdbd" stroke-width="0.8"/>
<polygon points="271.59,359.87 272.17,361.46 273.87,361.53 272.54,362.58 273,364.21 271.59,363.27 270.18,364.21 270.63,362.58 269.3,361.53 271,361.46" fill="#d0d0d0" stroke="#bdbdbd" stroke-width="0.8"/>
<polygon points="276.7,339.53 277.29,341.12 278.98,341.19 277.65,342.24 278.11,343.87 276.7,342.93 275.29,343.87 275.75,342.24 274.42,341.19 276.11,341.12" fill="#d0d0d0" stroke="#bdbdbd" stroke-width="0.8"/>
<polygon points="277.48,319.2 278.07,320.79 279.77,320.86 278.44,321.91 278.89,323.54 277.48,322.6 276.07,323.54 276.53,321.91 275.2,320.86 276.9,320.79" fill="#d0d0d0" stroke="#bdbdbd" stroke-width="0.8"/>
<polygon points="281.42,298.87 282,300.46 283.7,300.53 282.37,301.58 282.83,303.21 281.42,302.27 280.01,303.21 280.46,301.58 279.13,300.53 280.83,300.46" fill="#d0d0d0" stroke="#bdbdbd" stroke-width="0.8"/>
<polygon points="283.38,278.53 283.97,280.12 285.66,280.19 284.33,281.24 284.79,282.87 283.38,281.93 281.97,282.87 282.43,281.24 281.1,280.19 282.79,280.12" fill="#d0d0d0" stroke="#bdbdbd" stroke-width="0.8"/>
<polygon points="283.38,258.2 283.97,259.79 285.66,259.86 284.33,260.91 284.79,262.54 283.38,261.6 281.97,262.54 282.43,260.91 281.1,259.86 282.79,259.79" fill="#d0d0d0" stroke="#bdbdbd" stroke-width="0.8"/>
<polygon points="230.3,441.4 232.39,442.92 231.59,445.38 229.01,445.38 228.21,442.92" fill="none" stroke="#bdbdbd" stroke-width="0.8"/>
<polygon points="242.1,421.07 244.19,422.59 243.39,425.05 240.8,425.05 240,422.59" fill="none" stroke="#bdbdbd" stroke-width="0.8"/>
<polygon points="257.82,400.73 259.92,402.25 259.12,404.71 256.53,404.71 255.73,402.25" fill="none" stroke="#bdbdbd" stroke-width="0.8"/>
<polygon points="261.76,380.4 263.85,381.92 263.05,384.38 260.46,384.38 259.66,381.92" fill="none" stroke="#bdbdbd" stroke-width="0.8"/>
<polygon points="265.69,360.07 267.78,361.59 266.98,364.05 264.39,364.05 263.6,361.59" fill="none" stroke="#bdbdbd" stroke-width="0.8"/>
<polygon points="269.62,339.73 271.71,341.25 270.91,343.71 268.33,343.71 267.53,341.25" fill="none" stroke="#bdbdbd" stroke-width="0.8"/>
<polygon points="271.59,319.4 273.68,320.92 272.88,323.38 270.29,323.38 269.49,320.92" fill="none" stroke="#bdbdbd" stroke-width="0.8"/>
<polygon points="275.52,299.07 277.61,300.59 276.81,303.05 274.22,303.05 273.43,300.59" fill="none" stroke="#bdbdbd" stroke-width="0.8"/>
<polygon points="279.45,278.73 281.54,280.25 280.74,282.71 278.16,282.71 277.36,280.25" fill="none" stroke="#bdbdbd" stroke-width="0.8"/>
<polygon points="281.42,258.4 283.51,259.92 282.71,262.38 280.12,262.38 279.32,259.92" fill="none" stroke="#bdbdbd" stroke-width="0.8"/>
<rect x="228.5" y="441.8" width="3.6" height="3.6" fill="#dcdcdc" stroke="#cfcfcf" stroke-width="0.8"/>
<rect x="241.48" y="421.47" width="3.6" height="3.6" fill="#dcdcdc" stroke="#cfcfcf" stroke-width="0.8"/>
<rect x="256.81" y="401.13" width="3.6" height="3.6" fill="#dcdcdc" stroke="#cfcfcf" stroke-width="0.8"/>
<rect x="261.92" y="380.8" width="3.6" height="3.6" fill="#dcdcdc" stroke="#cfcfcf" stroke-width="0.8"/>
<rect x="265.85" y="360.47" width="3.6" height="3.6" fill="#dcdcdc" stroke="#cfcfcf" stroke-width="0.8"/>
<rect x="269.79" y="340.13" width="3.6" height="3.6" fill="#dcdcdc" stroke="#cfcfcf" stroke-width="0.8"/>
<rect x="271.75" y="319.8" width="3.6" height="3.6" fill="#dcdcdc" stroke="#cfcfcf" stroke-width="0.8"/>
<rect x="275.68" y="299.47" width="3.6" height="3.6" fill="#dcdcdc" stroke="#cfcfcf" stroke-width="0.8"/>
<rect x="277.65" y="279.13" width="3.6" height="3.6" fill="#dcdcdc" stroke="#cfcfcf" stroke-width="0.8"/>
<rect x="279.62" y="258.8" width="3.6" height="3.6" fill="#dcdcdc" stroke="#cfcfcf" stroke-width="0.8"/>
<circle cx="230.3" cy="443.6" r="2.1" fill="#dedede" stroke="#cccccc" stroke-width="0.8"/><circle cx="230.3" cy="443.6" r="0.8" fill="#c8c8c8"/>
<circle cx="242.1" cy="423.27" r="2.1" fill="#dedede" stroke="#cccccc" stroke-width="0.8"/><circle cx="242.1" cy="423.27" r="0.8" fill="#c8c8c8"/>
<circle cx="255.86" cy="402.93" r="2.1" fill="#dedede" stroke="#cccccc" stroke-width="0.8"/><circle cx="255.86" cy="402.93" r="0.8" fill="#c8c8c8"/>
<circle cx="261.76" cy="382.6" r="2.1" fill="#dedede" stroke="#cccccc" stroke-width="0.8"/><circle cx="261.76" cy="382.6" r="0.8" fill="#c8c8c8"/>
<circle cx="264.9" cy="362.27" r="2.1" fill="#dedede" stroke="#cccccc" stroke-width="0.8"/><circle cx="264.9" cy="362.27" r="0.8" fill="#c8c8c8"/>
<circle cx="267.65" cy="341.93" r="2.1" fill="#dedede" stroke="#cccccc" stroke-width="0.8"/><circle cx="267.65" cy="341.93" r="0.8" fill="#c8c8c8"/>
<circle cx="269.62" cy="321.6" r="2.1" fill="#dedede" stroke="#cccccc" stroke-width="0.8"/><circle cx="269.62" cy="321.6" r="0.8" fill="#c8c8c8"/>
<circle cx="273.55" cy="301.27" r="2.1" fill="#dedede" stroke="#cccccc" stroke-width="0.8"/><circle cx="273.55" cy="301.27" r="0.8" fill="#c8c8c8"/>
<circle cx="277.88" cy="280.93" r="2.1" fill="#dedede" stroke="#cccccc" stroke-width="0.8"/><circle cx="277.88" cy="280.93" r="0.8" fill="#c8c8c8"/>
<circle cx="281.02" cy="260.6" r="2.1" fill="#dedede" stroke="#cccccc" stroke-width="0.8"/><circle cx="281.02" cy="260.6" r="0.8" fill="#c8c8c8"/>
<polyline points="230.3,443.6 243.67,423.27 259,402.93 264.12,382.6 268.83,362.27 272.77,341.93 274.73,321.6 278.27,301.27 280.24,280.93 281.81,260.6" fill="none" stroke="#0c0cf8" stroke-width="1.75" stroke-linejoin="miter"/>
</g>
<path d="M289.28,260.6V443.6" stroke="#f51010" stroke-width="1.65" stroke-dasharray="8.5 5.9"/>
<rect x="290.5" y="314.1" width="37.2" height="127.5" fill="#fff" stroke="#c8c8c8" stroke-width="0.8"/>
<path d="M291.6,319.6H307.6" stroke="#c6c6c6" stroke-width="1.6"/>
<rect x="297.6" y="317.6" width="4" height="4" fill="#d8d8d8" stroke="#bdbdbd" stroke-width="0.8"/>
<text x="309.7" y="322.4" font-size="8" text-anchor="start">G1</text>
<path d="M291.6,329.27H307.6" stroke="#c6c6c6" stroke-width="1.0"/>
<circle cx="299.6" cy="329.27" r="2.35" fill="none" stroke="#bdbdbd" stroke-width="0.8"/>
<text x="309.7" y="332.07" font-size="8" text-anchor="start">G2</text>
<path d="M291.6,338.94H307.6" stroke="#c6c6c6" stroke-width="1.0"/>
<path d="M299.6,336.36L302.07,340.7L297.13,340.7Z" fill="none" stroke="#bdbdbd" stroke-width="0.8"/>
<text x="309.7" y="341.74" font-size="8" text-anchor="start">G3</text>
<path d="M291.6,348.61H307.6" stroke="#c6c6c6" stroke-width="1.0"/>
<path d="M299.6,351.19L302.07,346.85L297.13,346.85Z" fill="none" stroke="#bdbdbd" stroke-width="0.8"/>
<text x="309.7" y="351.41" font-size="8" text-anchor="start">G4</text>
<path d="M291.6,358.28H307.6" stroke="#c6c6c6" stroke-width="1.0"/>
<path d="M299.6,355.58L302.3,358.28L299.6,360.98L296.9,358.28Z" fill="none" stroke="#bdbdbd" stroke-width="0.8"/>
<text x="309.7" y="361.08" font-size="8" text-anchor="start">G5</text>
<path d="M291.6,367.95H307.6" stroke="#c6c6c6" stroke-width="1.0"/>
<path d="M297.02,367.95L301.36,365.48L301.36,370.42Z" fill="none" stroke="#bdbdbd" stroke-width="0.8"/>
<text x="309.7" y="370.75" font-size="8" text-anchor="start">G6</text>
<path d="M291.6,377.62H307.6" stroke="#c6c6c6" stroke-width="1.0"/>
<path d="M302.19,377.62L297.84,375.15L297.84,380.09Z" fill="none" stroke="#bdbdbd" stroke-width="0.8"/>
<text x="309.7" y="380.42" font-size="8" text-anchor="start">G7</text>
<path d="M291.6,387.29H307.6" stroke="#c6c6c6" stroke-width="1.0"/>
<polygon points="302.07,387.29 300.83,389.43 298.37,389.43 297.13,387.29 298.37,385.15 300.83,385.15" fill="none" stroke="#bdbdbd" stroke-width="0.8"/>
<text x="309.7" y="390.09" font-size="8" text-anchor="start">G8</text>
<path d="M291.6,396.96H307.6" stroke="#c6c6c6" stroke-width="1.0"/>
<polygon points="299.6,394.14 300.29,396.01 302.28,396.09 300.72,397.32 301.26,399.24 299.6,398.14 297.94,399.24 298.48,397.32 296.92,396.09 298.91,396.01" fill="#d0d0d0" stroke="#bdbdbd" stroke-width="0.8"/>
<text x="309.7" y="399.76" font-size="8" text-anchor="start">G9</text>
<path d="M291.6,406.63H307.6" stroke="#c6c6c6" stroke-width="1.0"/>
<polygon points="299.6,404.05 302.06,405.83 301.12,408.72 298.08,408.72 297.14,405.83" fill="none" stroke="#bdbdbd" stroke-width="0.8"/>
<text x="309.7" y="409.43" font-size="8" text-anchor="start">G10</text>
<path d="M291.6,416.3H307.6" stroke="#c6c6c6" stroke-width="1.0"/>
<rect x="297.49" y="414.19" width="4.23" height="4.23" fill="#dcdcdc" stroke="#cfcfcf" stroke-width="0.8"/>
<text x="309.7" y="419.1" font-size="8" text-anchor="start">G11</text>
<path d="M291.6,425.97H307.6" stroke="#c6c6c6" stroke-width="1.0"/>
<circle cx="299.6" cy="425.97" r="2.47" fill="#dedede" stroke="#cccccc" stroke-width="0.8"/><circle cx="299.6" cy="425.97" r="0.8" fill="#c8c8c8"/>
<text x="309.7" y="428.77" font-size="8" text-anchor="start">G12</text>
<path d="M291.6,435.64H307.6" stroke="#0c0cf8" stroke-width="1.75"/>
<text x="309.7" y="438.44" font-size="8" text-anchor="start">Mean</text>
<path d="M230.3,443.6v3.4M249.96,443.6v3.4M269.62,443.6v3.4M289.28,443.6v3.4M308.94,443.6v3.4M328.6,443.6v3.4M240.13,443.6v2M259.79,443.6v2M279.45,443.6v2M299.11,443.6v2M318.77,443.6v2M230.3,443.6h-3.4M230.3,423.27h-3.4M230.3,402.93h-3.4M230.3,382.6h-3.4M230.3,362.27h-3.4M230.3,341.93h-3.4M230.3,321.6h-3.4M230.3,301.27h-3.4M230.3,280.93h-3.4M230.3,260.6h-3.4" stroke="#1a1a1a" stroke-width="1"/>
<text x="230.3" y="455.3" font-size="7.6" text-anchor="middle">0.0</text>
<text x="249.96" y="455.3" font-size="7.6" text-anchor="middle">0.5</text>
<text x="269.62" y="455.3" font-size="7.6" text-anchor="middle">1.0</text>
<text x="289.28" y="455.3" font-size="7.6" text-anchor="middle">1.5</text>
<text x="308.94" y="455.3" font-size="7.6" text-anchor="middle">2.0</text>
<text x="328.6" y="455.3" font-size="7.6" text-anchor="middle">2.5</text>
<text x="224.8" y="446.18" font-size="7.6" text-anchor="end">0</text>
<text x="224.8" y="425.85" font-size="7.6" text-anchor="end">1</text>
<text x="224.8" y="405.52" font-size="7.6" text-anchor="end">2</text>
<text x="224.8" y="385.18" font-size="7.6" text-anchor="end">3</text>
<text x="224.8" y="364.85" font-size="7.6" text-anchor="end">4</text>
<text x="224.8" y="344.52" font-size="7.6" text-anchor="end">5</text>
<text x="224.8" y="324.18" font-size="7.6" text-anchor="end">6</text>
<text x="224.8" y="303.85" font-size="7.6" text-anchor="end">7</text>
<text x="224.8" y="283.52" font-size="7.6" text-anchor="end">8</text>
<text x="224.8" y="263.18" font-size="7.6" text-anchor="end">9</text>
<text x="245.4" y="435.6" font-size="9.3" text-anchor="start" textLength="40.9" lengthAdjust="spacingAndGlyphs">Target 1.5%</text>
<text x="279.45" y="465.2" font-size="8.8" text-anchor="middle" textLength="35" lengthAdjust="spacingAndGlyphs">ISDR (%)</text>
<text transform="translate(217.8,352.1) rotate(-90)" font-size="9.6" text-anchor="middle" textLength="36.8" lengthAdjust="spacingAndGlyphs">Story level</text>
<text x="208.7" y="488.5" font-size="14.8" style="stroke-width:0.12px" textLength="128.6" lengthAdjust="spacingAndGlyphs">(<tspan font-weight="bold">e</tspan>) Enhanced, DBE</text>
<path d="M458.7,257.4V445.9M485,257.4V445.9M511.3,257.4V445.9M445.55,257.4V445.9M471.85,257.4V445.9M498.15,257.4V445.9M524.45,257.4V445.9M432.4,435.43H537.6M432.4,424.96H537.6M432.4,414.48H537.6M432.4,404.01H537.6M432.4,393.54H537.6M432.4,383.07H537.6M432.4,372.59H537.6M432.4,362.12H537.6M432.4,351.65H537.6M432.4,341.18H537.6M432.4,330.71H537.6M432.4,320.23H537.6M432.4,309.76H537.6M432.4,299.29H537.6M432.4,288.82H537.6M432.4,278.34H537.6M432.4,267.87H537.6" stroke="#ececec" stroke-width="0.6" fill="none"/>
<rect x="432.4" y="257.4" width="105.2" height="188.5" fill="none" stroke="#151515" stroke-width="1.35"/>
<clipPath id="clipf"><rect x="428.4" y="253.4" width="109.2" height="196.5"/></clipPath>
<g clip-path="url(#clipf)">
<polyline points="432.4,445.9 445.55,424.96 461.33,404.01 469.22,383.07 474.48,362.12 481.06,341.18 482.9,320.23 485,299.29 486.58,278.34 486.31,257.4" fill="none" stroke="#c6c6c6" stroke-width="0.8"/>
<polyline points="432.4,445.9 447.65,424.96 470.8,404.01 480,383.07 485.79,362.12 487.89,341.18 492.1,320.23 498.94,299.29 507.09,278.34 509.99,257.4" fill="none" stroke="#c6c6c6" stroke-width="0.8"/>
<polyline points="432.4,445.9 442.92,424.96 457.91,404.01 466.59,383.07 470.53,362.12 474.48,341.18 481.06,320.23 483.69,299.29 485,278.34 488.16,257.4" fill="none" stroke="#c6c6c6" stroke-width="0.8"/>
<polyline points="432.4,445.9 446.87,424.96 463.96,404.01 471.85,383.07 476.58,362.12 482.37,341.18 485,320.23 494.99,299.29 497.89,278.34 498.94,257.4" fill="none" stroke="#c6c6c6" stroke-width="0.8"/>
<polyline points="432.4,445.9 438.45,424.96 448.71,404.01 450.81,383.07 455.81,362.12 458.96,341.18 461.07,320.23 462.12,299.29 462.91,278.34 462.91,257.4" fill="none" stroke="#c6c6c6" stroke-width="0.8"/>
<polyline points="432.4,445.9 440.29,424.96 452.12,404.01 456.07,383.07 458.7,362.12 461.33,341.18 463.96,320.23 465.01,299.29 468.96,278.34 468.96,257.4" fill="none" stroke="#c6c6c6" stroke-width="0.8"/>
<polyline points="432.4,445.9 442.92,424.96 457.38,404.01 463.96,383.07 469.22,362.12 477.11,341.18 482.37,320.23 486.31,299.29 488.94,278.34 490.26,257.4" fill="none" stroke="#c6c6c6" stroke-width="0.8"/>
<polyline points="432.4,445.9 441.6,424.96 454.75,404.01 460.28,383.07 462.64,362.12 466.59,341.18 468.96,320.23 471.06,299.29 477.11,278.34 477.9,257.4" fill="none" stroke="#c6c6c6" stroke-width="0.8"/>
<polyline points="432.4,445.9 444.23,424.96 458.7,404.01 466.59,383.07 471.85,362.12 478.43,341.18 483.69,320.23 488.16,299.29 490.26,278.34 492.36,257.4" fill="none" stroke="#c6c6c6" stroke-width="0.8"/>
<polyline points="432.4,445.9 441.6,424.96 456.07,404.01 462.64,383.07 466.59,362.12 472.11,341.18 474.48,320.23 474.48,299.29 471.85,278.34 472.11,257.4" fill="none" stroke="#c6c6c6" stroke-width="0.8"/>
<polyline points="432.4,445.9 442.92,424.96 457.38,404.01 463.96,383.07 467.9,362.12 473.17,341.18 477.11,320.23 481.06,299.29 483.69,278.34 484.47,257.4" fill="none" stroke="#c6c6c6" stroke-width="0.8"/>
<polyline points="432.4,445.9 440.29,424.96 453.44,404.01 458.7,383.07 462.64,362.12 463.96,341.18 463.96,320.23 463.96,299.29 465.27,278.34 465.27,257.4" fill="none" stroke="#c6c6c6" stroke-width="0.8"/>
<rect x="430.7" y="444.2" width="3.4" height="3.4" fill="#d8d8d8" stroke="#bdbdbd" stroke-width="0.8"/>
<rect x="443.85" y="423.26" width="3.4" height="3.4" fill="#d8d8d8" stroke="#bdbdbd" stroke-width="0.8"/>
<rect x="459.63" y="402.31" width="3.4" height="3.4" fill="#d8d8d8" stroke="#bdbdbd" stroke-width="0.8"/>
<rect x="467.52" y="381.37" width="3.4" height="3.4" fill="#d8d8d8" stroke="#bdbdbd" stroke-width="0.8"/>
<rect x="472.78" y="360.42" width="3.4" height="3.4" fill="#d8d8d8" stroke="#bdbdbd" stroke-width="0.8"/>
<rect x="479.36" y="339.48" width="3.4" height="3.4" fill="#d8d8d8" stroke="#bdbdbd" stroke-width="0.8"/>
<rect x="481.2" y="318.53" width="3.4" height="3.4" fill="#d8d8d8" stroke="#bdbdbd" stroke-width="0.8"/>
<rect x="483.3" y="297.59" width="3.4" height="3.4" fill="#d8d8d8" stroke="#bdbdbd" stroke-width="0.8"/>
<rect x="484.88" y="276.64" width="3.4" height="3.4" fill="#d8d8d8" stroke="#bdbdbd" stroke-width="0.8"/>
<rect x="484.62" y="255.7" width="3.4" height="3.4" fill="#d8d8d8" stroke="#bdbdbd" stroke-width="0.8"/>
<circle cx="432.4" cy="445.9" r="2" fill="none" stroke="#bdbdbd" stroke-width="0.8"/>
<circle cx="447.65" cy="424.96" r="2" fill="none" stroke="#bdbdbd" stroke-width="0.8"/>
<circle cx="470.8" cy="404.01" r="2" fill="none" stroke="#bdbdbd" stroke-width="0.8"/>
<circle cx="480" cy="383.07" r="2" fill="none" stroke="#bdbdbd" stroke-width="0.8"/>
<circle cx="485.79" cy="362.12" r="2" fill="none" stroke="#bdbdbd" stroke-width="0.8"/>
<circle cx="487.89" cy="341.18" r="2" fill="none" stroke="#bdbdbd" stroke-width="0.8"/>
<circle cx="492.1" cy="320.23" r="2" fill="none" stroke="#bdbdbd" stroke-width="0.8"/>
<circle cx="498.94" cy="299.29" r="2" fill="none" stroke="#bdbdbd" stroke-width="0.8"/>
<circle cx="507.09" cy="278.34" r="2" fill="none" stroke="#bdbdbd" stroke-width="0.8"/>
<circle cx="509.99" cy="257.4" r="2" fill="none" stroke="#bdbdbd" stroke-width="0.8"/>
<path d="M432.4,443.7L434.5,447.4L430.3,447.4Z" fill="none" stroke="#bdbdbd" stroke-width="0.8"/>
<path d="M442.92,422.76L445.02,426.46L440.82,426.46Z" fill="none" stroke="#bdbdbd" stroke-width="0.8"/>
<path d="M457.91,401.81L460.01,405.51L455.81,405.51Z" fill="none" stroke="#bdbdbd" stroke-width="0.8"/>
<path d="M466.59,380.87L468.69,384.57L464.49,384.57Z" fill="none" stroke="#bdbdbd" stroke-width="0.8"/>
<path d="M470.53,359.92L472.63,363.62L468.43,363.62Z" fill="none" stroke="#bdbdbd" stroke-width="0.8"/>
<path d="M474.48,338.98L476.58,342.68L472.38,342.68Z" fill="none" stroke="#bdbdbd" stroke-width="0.8"/>
<path d="M481.06,318.03L483.16,321.73L478.95,321.73Z" fill="none" stroke="#bdbdbd" stroke-width="0.8"/>
<path d="M483.69,297.09L485.79,300.79L481.58,300.79Z" fill="none" stroke="#bdbdbd" stroke-width="0.8"/>
<path d="M485,276.14L487.1,279.84L482.9,279.84Z" fill="none" stroke="#bdbdbd" stroke-width="0.8"/>
<path d="M488.16,255.2L490.26,258.9L486.06,258.9Z" fill="none" stroke="#bdbdbd" stroke-width="0.8"/>
<path d="M432.4,448.1L434.5,444.4L430.3,444.4Z" fill="none" stroke="#bdbdbd" stroke-width="0.8"/>
<path d="M446.87,427.16L448.97,423.46L444.76,423.46Z" fill="none" stroke="#bdbdbd" stroke-width="0.8"/>
<path d="M463.96,406.21L466.06,402.51L461.86,402.51Z" fill="none" stroke="#bdbdbd" stroke-width="0.8"/>
<path d="M471.85,385.27L473.95,381.57L469.75,381.57Z" fill="none" stroke="#bdbdbd" stroke-width="0.8"/>
<path d="M476.58,364.32L478.68,360.62L474.48,360.62Z" fill="none" stroke="#bdbdbd" stroke-width="0.8"/>
<path d="M482.37,343.38L484.47,339.68L480.27,339.68Z" fill="none" stroke="#bdbdbd" stroke-width="0.8"/>
<path d="M485,322.43L487.1,318.73L482.9,318.73Z" fill="none" stroke="#bdbdbd" stroke-width="0.8"/>
<path d="M494.99,301.49L497.09,297.79L492.89,297.79Z" fill="none" stroke="#bdbdbd" stroke-width="0.8"/>
<path d="M497.89,280.54L499.99,276.84L495.79,276.84Z" fill="none" stroke="#bdbdbd" stroke-width="0.8"/>
<path d="M498.94,259.6L501.04,255.9L496.84,255.9Z" fill="none" stroke="#bdbdbd" stroke-width="0.8"/>
<path d="M432.4,443.6L434.7,445.9L432.4,448.2L430.1,445.9Z" fill="none" stroke="#bdbdbd" stroke-width="0.8"/>
<path d="M438.45,422.66L440.75,424.96L438.45,427.26L436.15,424.96Z" fill="none" stroke="#bdbdbd" stroke-width="0.8"/>
<path d="M448.71,401.71L451.01,404.01L448.71,406.31L446.41,404.01Z" fill="none" stroke="#bdbdbd" stroke-width="0.8"/>
<path d="M450.81,380.77L453.11,383.07L450.81,385.37L448.51,383.07Z" fill="none" stroke="#bdbdbd" stroke-width="0.8"/>
<path d="M455.81,359.82L458.11,362.12L455.81,364.42L453.51,362.12Z" fill="none" stroke="#bdbdbd" stroke-width="0.8"/>
<path d="M458.96,338.88L461.26,341.18L458.96,343.48L456.66,341.18Z" fill="none" stroke="#bdbdbd" stroke-width="0.8"/>
<path d="M461.07,317.93L463.37,320.23L461.07,322.53L458.77,320.23Z" fill="none" stroke="#bdbdbd" stroke-width="0.8"/>
<path d="M462.12,296.99L464.42,299.29L462.12,301.59L459.82,299.29Z" fill="none" stroke="#bdbdbd" stroke-width="0.8"/>
<path d="M462.91,276.04L465.21,278.34L462.91,280.64L460.61,278.34Z" fill="none" stroke="#bdbdbd" stroke-width="0.8"/>
<path d="M462.91,255.1L465.21,257.4L462.91,259.7L460.61,257.4Z" fill="none" stroke="#bdbdbd" stroke-width="0.8"/>
<path d="M430.2,445.9L433.9,443.8L433.9,448Z" fill="none" stroke="#bdbdbd" stroke-width="0.8"/>
<path d="M438.09,424.96L441.79,422.86L441.79,427.06Z" fill="none" stroke="#bdbdbd" stroke-width="0.8"/>
<path d="M449.93,404.01L453.62,401.91L453.62,406.11Z" fill="none" stroke="#bdbdbd" stroke-width="0.8"/>
<path d="M453.87,383.07L457.57,380.97L457.57,385.17Z" fill="none" stroke="#bdbdbd" stroke-width="0.8"/>
<path d="M456.5,362.12L460.2,360.02L460.2,364.22Z" fill="none" stroke="#bdbdbd" stroke-width="0.8"/>
<path d="M459.13,341.18L462.83,339.08L462.83,343.28Z" fill="none" stroke="#bdbdbd" stroke-width="0.8"/>
<path d="M461.76,320.23L465.46,318.13L465.46,322.33Z" fill="none" stroke="#bdbdbd" stroke-width="0.8"/>
<path d="M462.81,299.29L466.51,297.19L466.51,301.39Z" fill="none" stroke="#bdbdbd" stroke-width="0.8"/>
<path d="M466.76,278.34L470.46,276.24L470.46,280.44Z" fill="none" stroke="#bdbdbd" stroke-width="0.8"/>
<path d="M466.76,257.4L470.46,255.3L470.46,259.5Z" fill="none" stroke="#bdbdbd" stroke-width="0.8"/>
<path d="M434.6,445.9L430.9,443.8L430.9,448Z" fill="none" stroke="#bdbdbd" stroke-width="0.8"/>
<path d="M445.12,424.96L441.42,422.86L441.42,427.06Z" fill="none" stroke="#bdbdbd" stroke-width="0.8"/>
<path d="M459.58,404.01L455.88,401.91L455.88,406.11Z" fill="none" stroke="#bdbdbd" stroke-width="0.8"/>
<path d="M466.16,383.07L462.46,380.97L462.46,385.17Z" fill="none" stroke="#bdbdbd" stroke-width="0.8"/>
<path d="M471.42,362.12L467.72,360.02L467.72,364.22Z" fill="none" stroke="#bdbdbd" stroke-width="0.8"/>
<path d="M479.31,341.18L475.61,339.08L475.61,343.28Z" fill="none" stroke="#bdbdbd" stroke-width="0.8"/>
<path d="M484.57,320.23L480.87,318.13L480.87,322.33Z" fill="none" stroke="#bdbdbd" stroke-width="0.8"/>
<path d="M488.51,299.29L484.81,297.19L484.81,301.39Z" fill="none" stroke="#bdbdbd" stroke-width="0.8"/>
<path d="M491.14,278.34L487.44,276.24L487.44,280.44Z" fill="none" stroke="#bdbdbd" stroke-width="0.8"/>
<path d="M492.46,257.4L488.76,255.3L488.76,259.5Z" fill="none" stroke="#bdbdbd" stroke-width="0.8"/>
<polygon points="434.5,445.9 433.45,447.72 431.35,447.72 430.3,445.9 431.35,444.08 433.45,444.08" fill="none" stroke="#bdbdbd" stroke-width="0.8"/>
<polygon points="443.7,424.96 442.65,426.77 440.55,426.77 439.5,424.96 440.55,423.14 442.65,423.14" fill="none" stroke="#bdbdbd" stroke-width="0.8"/>
<polygon points="456.86,404.01 455.81,405.83 453.7,405.83 452.65,404.01 453.7,402.19 455.81,402.19" fill="none" stroke="#bdbdbd" stroke-width="0.8"/>
<polygon points="462.38,383.07 461.33,384.89 459.23,384.89 458.18,383.07 459.23,381.25 461.33,381.25" fill="none" stroke="#bdbdbd" stroke-width="0.8"/>
<polygon points="464.75,362.12 463.69,363.94 461.59,363.94 460.54,362.12 461.59,360.3 463.69,360.3" fill="none" stroke="#bdbdbd" stroke-width="0.8"/>
<polygon points="468.69,341.18 467.64,343 465.54,343 464.49,341.18 465.54,339.36 467.64,339.36" fill="none" stroke="#bdbdbd" stroke-width="0.8"/>
<polygon points="471.06,320.23 470.01,322.05 467.91,322.05 466.86,320.23 467.91,318.41 470.01,318.41" fill="none" stroke="#bdbdbd" stroke-width="0.8"/>
<polygon points="473.16,299.29 472.11,301.11 470.01,301.11 468.96,299.29 470.01,297.47 472.11,297.47" fill="none" stroke="#bdbdbd" stroke-width="0.8"/>
<polygon points="479.21,278.34 478.16,280.16 476.06,280.16 475.01,278.34 476.06,276.53 478.16,276.53" fill="none" stroke="#bdbdbd" stroke-width="0.8"/>
<polygon points="480,257.4 478.95,259.22 476.85,259.22 475.8,257.4 476.85,255.58 478.95,255.58" fill="none" stroke="#bdbdbd" stroke-width="0.8"/>
<polygon points="432.4,443.5 432.99,445.09 434.68,445.16 433.35,446.21 433.81,447.84 432.4,446.9 430.99,447.84 431.45,446.21 430.12,445.16 431.81,445.09" fill="#d0d0d0" stroke="#bdbdbd" stroke-width="0.8"/>
<polygon points="444.23,422.56 444.82,424.15 446.52,424.21 445.19,425.26 445.65,426.9 444.23,425.96 442.82,426.9 443.28,425.26 441.95,424.21 443.65,424.15" fill="#d0d0d0" stroke="#bdbdbd" stroke-width="0.8"/>
<polygon points="458.7,401.61 459.29,403.2 460.98,403.27 459.65,404.32 460.11,405.95 458.7,405.01 457.29,405.95 457.75,404.32 456.42,403.27 458.11,403.2" fill="#d0d0d0" stroke="#bdbdbd" stroke-width="0.8"/>
<polygon points="466.59,380.67 467.18,382.26 468.87,382.33 467.54,383.38 468,385.01 466.59,384.07 465.18,385.01 465.64,383.38 464.31,382.33 466,382.26" fill="#d0d0d0" stroke="#bdbdbd" stroke-width="0.8"/>
<polygon points="471.85,359.72 472.44,361.31 474.13,361.38 472.8,362.43 473.26,364.06 471.85,363.12 470.44,364.06 470.9,362.43 469.57,361.38 471.26,361.31" fill="#d0d0d0" stroke="#bdbdbd" stroke-width="0.8"/>
<polygon points="478.43,338.78 479.01,340.37 480.71,340.44 479.38,341.49 479.84,343.12 478.43,342.18 477.01,343.12 477.47,341.49 476.14,340.44 477.84,340.37" fill="#d0d0d0" stroke="#bdbdbd" stroke-width="0.8"/>
<polygon points="483.69,317.83 484.27,319.42 485.97,319.49 484.64,320.54 485.1,322.17 483.69,321.23 482.27,322.17 482.73,320.54 481.4,319.49 483.1,319.42" fill="#d0d0d0" stroke="#bdbdbd" stroke-width="0.8"/>
<polygon points="488.16,296.89 488.74,298.48 490.44,298.55 489.11,299.6 489.57,301.23 488.16,300.29 486.75,301.23 487.2,299.6 485.87,298.55 487.57,298.48" fill="#d0d0d0" stroke="#bdbdbd" stroke-width="0.8"/>
<polygon points="490.26,275.94 490.85,277.54 492.54,277.6 491.21,278.65 491.67,280.29 490.26,279.34 488.85,280.29 489.31,278.65 487.98,277.6 489.67,277.54" fill="#d0d0d0" stroke="#bdbdbd" stroke-width="0.8"/>
<polygon points="492.36,255 492.95,256.59 494.65,256.66 493.32,257.71 493.77,259.34 492.36,258.4 490.95,259.34 491.41,257.71 490.08,256.66 491.78,256.59" fill="#d0d0d0" stroke="#bdbdbd" stroke-width="0.8"/>
<polygon points="432.4,443.7 434.49,445.22 433.69,447.68 431.11,447.68 430.31,445.22" fill="none" stroke="#bdbdbd" stroke-width="0.8"/>
<polygon points="441.6,422.76 443.7,424.28 442.9,426.74 440.31,426.74 439.51,424.28" fill="none" stroke="#bdbdbd" stroke-width="0.8"/>
<polygon points="456.07,401.81 458.16,403.33 457.36,405.79 454.78,405.79 453.98,403.33" fill="none" stroke="#bdbdbd" stroke-width="0.8"/>
<polygon points="462.64,380.87 464.74,382.39 463.94,384.85 461.35,384.85 460.55,382.39" fill="none" stroke="#bdbdbd" stroke-width="0.8"/>
<polygon points="466.59,359.92 468.68,361.44 467.88,363.9 465.3,363.9 464.5,361.44" fill="none" stroke="#bdbdbd" stroke-width="0.8"/>
<polygon points="472.11,338.98 474.21,340.5 473.41,342.96 470.82,342.96 470.02,340.5" fill="none" stroke="#bdbdbd" stroke-width="0.8"/>
<polygon points="474.48,318.03 476.57,319.55 475.77,322.01 473.19,322.01 472.39,319.55" fill="none" stroke="#bdbdbd" stroke-width="0.8"/>
<polygon points="474.48,297.09 476.57,298.61 475.77,301.07 473.19,301.07 472.39,298.61" fill="none" stroke="#bdbdbd" stroke-width="0.8"/>
<polygon points="471.85,276.14 473.94,277.66 473.14,280.12 470.56,280.12 469.76,277.66" fill="none" stroke="#bdbdbd" stroke-width="0.8"/>
<polygon points="472.11,255.2 474.21,256.72 473.41,259.18 470.82,259.18 470.02,256.72" fill="none" stroke="#bdbdbd" stroke-width="0.8"/>
<rect x="430.6" y="444.1" width="3.6" height="3.6" fill="#dcdcdc" stroke="#cfcfcf" stroke-width="0.8"/>
<rect x="441.12" y="423.16" width="3.6" height="3.6" fill="#dcdcdc" stroke="#cfcfcf" stroke-width="0.8"/>
<rect x="455.58" y="402.21" width="3.6" height="3.6" fill="#dcdcdc" stroke="#cfcfcf" stroke-width="0.8"/>
<rect x="462.16" y="381.27" width="3.6" height="3.6" fill="#dcdcdc" stroke="#cfcfcf" stroke-width="0.8"/>
<rect x="466.1" y="360.32" width="3.6" height="3.6" fill="#dcdcdc" stroke="#cfcfcf" stroke-width="0.8"/>
<rect x="471.37" y="339.38" width="3.6" height="3.6" fill="#dcdcdc" stroke="#cfcfcf" stroke-width="0.8"/>
<rect x="475.31" y="318.43" width="3.6" height="3.6" fill="#dcdcdc" stroke="#cfcfcf" stroke-width="0.8"/>
<rect x="479.25" y="297.49" width="3.6" height="3.6" fill="#dcdcdc" stroke="#cfcfcf" stroke-width="0.8"/>
<rect x="481.88" y="276.54" width="3.6" height="3.6" fill="#dcdcdc" stroke="#cfcfcf" stroke-width="0.8"/>
<rect x="482.67" y="255.6" width="3.6" height="3.6" fill="#dcdcdc" stroke="#cfcfcf" stroke-width="0.8"/>
<circle cx="432.4" cy="445.9" r="2.1" fill="#dedede" stroke="#cccccc" stroke-width="0.8"/><circle cx="432.4" cy="445.9" r="0.8" fill="#c8c8c8"/>
<circle cx="440.29" cy="424.96" r="2.1" fill="#dedede" stroke="#cccccc" stroke-width="0.8"/><circle cx="440.29" cy="424.96" r="0.8" fill="#c8c8c8"/>
<circle cx="453.44" cy="404.01" r="2.1" fill="#dedede" stroke="#cccccc" stroke-width="0.8"/><circle cx="453.44" cy="404.01" r="0.8" fill="#c8c8c8"/>
<circle cx="458.7" cy="383.07" r="2.1" fill="#dedede" stroke="#cccccc" stroke-width="0.8"/><circle cx="458.7" cy="383.07" r="0.8" fill="#c8c8c8"/>
<circle cx="462.64" cy="362.12" r="2.1" fill="#dedede" stroke="#cccccc" stroke-width="0.8"/><circle cx="462.64" cy="362.12" r="0.8" fill="#c8c8c8"/>
<circle cx="463.96" cy="341.18" r="2.1" fill="#dedede" stroke="#cccccc" stroke-width="0.8"/><circle cx="463.96" cy="341.18" r="0.8" fill="#c8c8c8"/>
<circle cx="463.96" cy="320.23" r="2.1" fill="#dedede" stroke="#cccccc" stroke-width="0.8"/><circle cx="463.96" cy="320.23" r="0.8" fill="#c8c8c8"/>
<circle cx="463.96" cy="299.29" r="2.1" fill="#dedede" stroke="#cccccc" stroke-width="0.8"/><circle cx="463.96" cy="299.29" r="0.8" fill="#c8c8c8"/>
<circle cx="465.27" cy="278.34" r="2.1" fill="#dedede" stroke="#cccccc" stroke-width="0.8"/><circle cx="465.27" cy="278.34" r="0.8" fill="#c8c8c8"/>
<circle cx="465.27" cy="257.4" r="2.1" fill="#dedede" stroke="#cccccc" stroke-width="0.8"/><circle cx="465.27" cy="257.4" r="0.8" fill="#c8c8c8"/>
<polyline points="432.4,445.9 442.92,424.96 459.23,404.01 466.33,383.07 470.8,362.12 474.22,341.18 476.58,320.23 480,299.29 483.16,278.34 485.26,257.4" fill="none" stroke="#0c0cf8" stroke-width="1.75" stroke-linejoin="miter"/>
</g>
<path d="M485,257.4V445.9" stroke="#f51010" stroke-width="1.65" stroke-dasharray="8.5 5.9"/>
<rect x="493.5" y="312.5" width="41.3" height="130.4" fill="#fff" stroke="#c8c8c8" stroke-width="0.8"/>
<path d="M495.3,318.3H512.8" stroke="#c6c6c6" stroke-width="1.6"/>
<rect x="502.05" y="316.3" width="4" height="4" fill="#d8d8d8" stroke="#bdbdbd" stroke-width="0.8"/>
<text x="515.2" y="321.1" font-size="8" text-anchor="start">G1</text>
<path d="M495.3,328.31H512.8" stroke="#c6c6c6" stroke-width="1.0"/>
<circle cx="504.05" cy="328.31" r="2.35" fill="none" stroke="#bdbdbd" stroke-width="0.8"/>
<text x="515.2" y="331.11" font-size="8" text-anchor="start">G2</text>
<path d="M495.3,338.32H512.8" stroke="#c6c6c6" stroke-width="1.0"/>
<path d="M504.05,335.74L506.52,340.08L501.58,340.08Z" fill="none" stroke="#bdbdbd" stroke-width="0.8"/>
<text x="515.2" y="341.12" font-size="8" text-anchor="start">G3</text>
<path d="M495.3,348.33H512.8" stroke="#c6c6c6" stroke-width="1.0"/>
<path d="M504.05,350.92L506.52,346.57L501.58,346.57Z" fill="none" stroke="#bdbdbd" stroke-width="0.8"/>
<text x="515.2" y="351.13" font-size="8" text-anchor="start">G4</text>
<path d="M495.3,358.34H512.8" stroke="#c6c6c6" stroke-width="1.0"/>
<path d="M504.05,355.64L506.75,358.34L504.05,361.04L501.35,358.34Z" fill="none" stroke="#bdbdbd" stroke-width="0.8"/>
<text x="515.2" y="361.14" font-size="8" text-anchor="start">G5</text>
<path d="M495.3,368.35H512.8" stroke="#c6c6c6" stroke-width="1.0"/>
<path d="M501.46,368.35L505.81,365.88L505.81,370.82Z" fill="none" stroke="#bdbdbd" stroke-width="0.8"/>
<text x="515.2" y="371.15" font-size="8" text-anchor="start">G6</text>
<path d="M495.3,378.36H512.8" stroke="#c6c6c6" stroke-width="1.0"/>
<path d="M506.63,378.36L502.29,375.89L502.29,380.83Z" fill="none" stroke="#bdbdbd" stroke-width="0.8"/>
<text x="515.2" y="381.16" font-size="8" text-anchor="start">G7</text>
<path d="M495.3,388.37H512.8" stroke="#c6c6c6" stroke-width="1.0"/>
<polygon points="506.52,388.37 505.28,390.51 502.82,390.51 501.58,388.37 502.82,386.23 505.28,386.23" fill="none" stroke="#bdbdbd" stroke-width="0.8"/>
<text x="515.2" y="391.17" font-size="8" text-anchor="start">G8</text>
<path d="M495.3,398.38H512.8" stroke="#c6c6c6" stroke-width="1.0"/>
<polygon points="504.05,395.56 504.74,397.43 506.73,397.51 505.17,398.74 505.71,400.66 504.05,399.56 502.39,400.66 502.93,398.74 501.37,397.51 503.36,397.43" fill="#d0d0d0" stroke="#bdbdbd" stroke-width="0.8"/>
<text x="515.2" y="401.18" font-size="8" text-anchor="start">G9</text>
<path d="M495.3,408.39H512.8" stroke="#c6c6c6" stroke-width="1.0"/>
<polygon points="504.05,405.81 506.51,407.59 505.57,410.48 502.53,410.48 501.59,407.59" fill="none" stroke="#bdbdbd" stroke-width="0.8"/>
<text x="515.2" y="411.19" font-size="8" text-anchor="start">G10</text>
<path d="M495.3,418.4H512.8" stroke="#c6c6c6" stroke-width="1.0"/>
<rect x="501.93" y="416.28" width="4.23" height="4.23" fill="#dcdcdc" stroke="#cfcfcf" stroke-width="0.8"/>
<text x="515.2" y="421.2" font-size="8" text-anchor="start">G11</text>
<path d="M495.3,428.41H512.8" stroke="#c6c6c6" stroke-width="1.0"/>
<circle cx="504.05" cy="428.41" r="2.47" fill="#dedede" stroke="#cccccc" stroke-width="0.8"/><circle cx="504.05" cy="428.41" r="0.8" fill="#c8c8c8"/>
<text x="515.2" y="431.21" font-size="8" text-anchor="start">G12</text>
<path d="M495.3,438.42H512.8" stroke="#0c0cf8" stroke-width="1.75"/>
<text x="515.2" y="441.22" font-size="8" text-anchor="start">Mean</text>
<path d="M432.4,445.9v3.4M458.7,445.9v3.4M485,445.9v3.4M511.3,445.9v3.4M537.6,445.9v3.4M445.55,445.9v2M471.85,445.9v2M498.15,445.9v2M524.45,445.9v2M432.4,445.9h-3.4M432.4,424.96h-3.4M432.4,404.01h-3.4M432.4,383.07h-3.4M432.4,362.12h-3.4M432.4,341.18h-3.4M432.4,320.23h-3.4M432.4,299.29h-3.4M432.4,278.34h-3.4M432.4,257.4h-3.4" stroke="#1a1a1a" stroke-width="1"/>
<text x="432.4" y="458.2" font-size="7.6" text-anchor="middle">0</text>
<text x="458.7" y="458.2" font-size="7.6" text-anchor="middle">1</text>
<text x="485" y="458.2" font-size="7.6" text-anchor="middle">2</text>
<text x="511.3" y="458.2" font-size="7.6" text-anchor="middle">3</text>
<text x="537.6" y="458.2" font-size="7.6" text-anchor="middle">4</text>
<text x="426.9" y="448.48" font-size="7.6" text-anchor="end">0</text>
<text x="426.9" y="427.54" font-size="7.6" text-anchor="end">1</text>
<text x="426.9" y="406.6" font-size="7.6" text-anchor="end">2</text>
<text x="426.9" y="385.65" font-size="7.6" text-anchor="end">3</text>
<text x="426.9" y="364.71" font-size="7.6" text-anchor="end">4</text>
<text x="426.9" y="343.76" font-size="7.6" text-anchor="end">5</text>
<text x="426.9" y="322.82" font-size="7.6" text-anchor="end">6</text>
<text x="426.9" y="301.87" font-size="7.6" text-anchor="end">7</text>
<text x="426.9" y="280.93" font-size="7.6" text-anchor="end">8</text>
<text x="426.9" y="259.98" font-size="7.6" text-anchor="end">9</text>
<text x="439.6" y="440.9" font-size="9.3" text-anchor="start" textLength="44" lengthAdjust="spacingAndGlyphs">Target 2.0%</text>
<text x="485" y="468.5" font-size="8.8" text-anchor="middle" textLength="35" lengthAdjust="spacingAndGlyphs">ISDR (%)</text>
<text transform="translate(419.3,351.7) rotate(-90)" font-size="9.6" text-anchor="middle" textLength="38.2" lengthAdjust="spacingAndGlyphs">Story level</text>
<text x="411.6" y="488.5" font-size="14.8" style="stroke-width:0.12px" textLength="130.2" lengthAdjust="spacingAndGlyphs">(<tspan font-weight="bold">f</tspan>) Enhanced, MCE</text>
</svg>
</body></html>
